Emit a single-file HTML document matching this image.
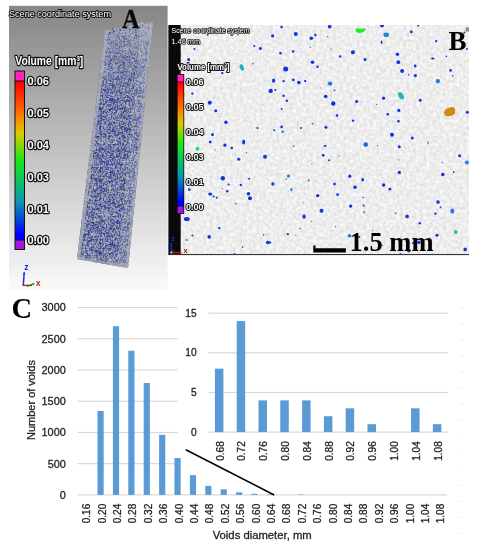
<!DOCTYPE html>
<html lang="en"><head><meta charset="utf-8"><title>Voids figure</title>
<style>
html,body{margin:0;padding:0;background:#fff;}
body{width:480px;height:550px;overflow:hidden;}
svg{display:block;}
text{font-family:"Liberation Sans",Arial,sans-serif;}
.ser{font-family:"Liberation Serif","Times New Roman",serif;font-weight:bold;}
.ax{fill:#262626;stroke:#262626;stroke-width:0.3px;}
.ol{fill:#fff;stroke:#111;paint-order:stroke fill;stroke-linejoin:round;}
</style></head><body>
<svg width="480" height="550" viewBox="0 0 480 550">
<defs>
<linearGradient id="gA" x1="0" y1="0" x2="0" y2="1">
<stop offset="0" stop-color="#868686"/><stop offset="1" stop-color="#fafafa"/>
</linearGradient>
<linearGradient id="hue" x1="0" y1="0" x2="0" y2="1">
<stop offset="0" stop-color="#ff0000"/><stop offset="0.2" stop-color="#ff7000"/><stop offset="0.33" stop-color="#dccc00"/>
<stop offset="0.5" stop-color="#18e818"/><stop offset="0.76" stop-color="#0a98b0"/>
<stop offset="0.97" stop-color="#0000ff"/>
</linearGradient>
<filter id="nB" x="0" y="0" width="100%" height="100%" color-interpolation-filters="sRGB">
<feTurbulence type="fractalNoise" baseFrequency="0.3" numOctaves="2" seed="3" result="n"/>
<feColorMatrix type="matrix" values="0.18 0 0 0 0.84  0.18 0 0 0 0.84  0.18 0 0 0 0.84  0 0 0 0 1"/>
</filter>
<filter id="blA" x="-2%" y="-2%" width="104%" height="104%" color-interpolation-filters="sRGB"><feConvolveMatrix order="3" kernelMatrix="0 1 0 1 8 1 0 1 0" divisor="12" edgeMode="duplicate" preserveAlpha="true"/></filter>
<pattern id="spk" width="72" height="72" patternUnits="userSpaceOnUse">
<path fill="#4653a2" d="M6 0h1v1h-1zM11 0h1v1h-1zM13 0h1v1h-1zM16 0h1v1h-1zM17 0h1v1h-1zM21 0h1v1h-1zM23 0h1v1h-1zM25 0h1v1h-1zM26 0h1v1h-1zM28 0h1v1h-1zM29 0h1v1h-1zM36 0h1v1h-1zM43 0h1v1h-1zM44 0h1v1h-1zM45 0h1v1h-1zM48 0h1v1h-1zM57 0h1v1h-1zM59 0h1v1h-1zM62 0h1v1h-1zM66 0h1v1h-1zM67 0h1v1h-1zM68 0h1v1h-1zM70 0h1v1h-1zM6 1h1v1h-1zM10 1h1v1h-1zM12 1h1v1h-1zM21 1h1v1h-1zM22 1h1v1h-1zM23 1h1v1h-1zM26 1h1v1h-1zM27 1h1v1h-1zM31 1h1v1h-1zM36 1h1v1h-1zM38 1h1v1h-1zM41 1h1v1h-1zM46 1h1v1h-1zM48 1h1v1h-1zM61 1h1v1h-1zM68 1h1v1h-1zM16 2h1v1h-1zM18 2h1v1h-1zM36 2h1v1h-1zM43 2h1v1h-1zM52 2h1v1h-1zM53 2h1v1h-1zM56 2h1v1h-1zM59 2h1v1h-1zM61 2h1v1h-1zM62 2h1v1h-1zM63 2h1v1h-1zM65 2h1v1h-1zM66 2h1v1h-1zM67 2h1v1h-1zM0 3h1v1h-1zM2 3h1v1h-1zM6 3h1v1h-1zM9 3h1v1h-1zM11 3h1v1h-1zM21 3h1v1h-1zM29 3h1v1h-1zM30 3h1v1h-1zM33 3h1v1h-1zM38 3h1v1h-1zM45 3h1v1h-1zM54 3h1v1h-1zM60 3h1v1h-1zM65 3h1v1h-1zM67 3h1v1h-1zM3 4h1v1h-1zM14 4h1v1h-1zM15 4h1v1h-1zM20 4h1v1h-1zM31 4h1v1h-1zM34 4h1v1h-1zM41 4h1v1h-1zM46 4h1v1h-1zM49 4h1v1h-1zM50 4h1v1h-1zM54 4h1v1h-1zM59 4h1v1h-1zM61 4h1v1h-1zM65 4h1v1h-1zM68 4h1v1h-1zM71 4h1v1h-1zM1 5h1v1h-1zM2 5h1v1h-1zM4 5h1v1h-1zM5 5h1v1h-1zM9 5h1v1h-1zM16 5h1v1h-1zM18 5h1v1h-1zM26 5h1v1h-1zM29 5h1v1h-1zM30 5h1v1h-1zM33 5h1v1h-1zM36 5h1v1h-1zM38 5h1v1h-1zM39 5h1v1h-1zM41 5h1v1h-1zM46 5h1v1h-1zM48 5h1v1h-1zM49 5h1v1h-1zM52 5h1v1h-1zM53 5h1v1h-1zM57 5h1v1h-1zM60 5h1v1h-1zM65 5h1v1h-1zM4 6h1v1h-1zM5 6h1v1h-1zM6 6h1v1h-1zM7 6h1v1h-1zM11 6h1v1h-1zM17 6h1v1h-1zM18 6h1v1h-1zM19 6h1v1h-1zM23 6h1v1h-1zM24 6h1v1h-1zM26 6h1v1h-1zM28 6h1v1h-1zM30 6h1v1h-1zM38 6h1v1h-1zM43 6h1v1h-1zM44 6h1v1h-1zM45 6h1v1h-1zM46 6h1v1h-1zM47 6h1v1h-1zM56 6h1v1h-1zM57 6h1v1h-1zM63 6h1v1h-1zM64 6h1v1h-1zM67 6h1v1h-1zM0 7h1v1h-1zM1 7h1v1h-1zM5 7h1v1h-1zM6 7h1v1h-1zM7 7h1v1h-1zM9 7h1v1h-1zM10 7h1v1h-1zM13 7h1v1h-1zM14 7h1v1h-1zM16 7h1v1h-1zM20 7h1v1h-1zM22 7h1v1h-1zM27 7h1v1h-1zM28 7h1v1h-1zM39 7h1v1h-1zM40 7h1v1h-1zM42 7h1v1h-1zM46 7h1v1h-1zM47 7h1v1h-1zM48 7h1v1h-1zM49 7h1v1h-1zM52 7h1v1h-1zM53 7h1v1h-1zM55 7h1v1h-1zM56 7h1v1h-1zM59 7h1v1h-1zM5 8h1v1h-1zM6 8h1v1h-1zM7 8h1v1h-1zM11 8h1v1h-1zM14 8h1v1h-1zM15 8h1v1h-1zM16 8h1v1h-1zM21 8h1v1h-1zM25 8h1v1h-1zM29 8h1v1h-1zM31 8h1v1h-1zM36 8h1v1h-1zM47 8h1v1h-1zM50 8h1v1h-1zM52 8h1v1h-1zM57 8h1v1h-1zM59 8h1v1h-1zM63 8h1v1h-1zM65 8h1v1h-1zM71 8h1v1h-1zM2 9h1v1h-1zM3 9h1v1h-1zM4 9h1v1h-1zM7 9h1v1h-1zM15 9h1v1h-1zM18 9h1v1h-1zM21 9h1v1h-1zM39 9h1v1h-1zM40 9h1v1h-1zM49 9h1v1h-1zM58 9h1v1h-1zM61 9h1v1h-1zM65 9h1v1h-1zM67 9h1v1h-1zM1 10h1v1h-1zM7 10h1v1h-1zM12 10h1v1h-1zM15 10h1v1h-1zM16 10h1v1h-1zM29 10h1v1h-1zM30 10h1v1h-1zM31 10h1v1h-1zM34 10h1v1h-1zM35 10h1v1h-1zM40 10h1v1h-1zM48 10h1v1h-1zM52 10h1v1h-1zM53 10h1v1h-1zM54 10h1v1h-1zM55 10h1v1h-1zM56 10h1v1h-1zM58 10h1v1h-1zM68 10h1v1h-1zM69 10h1v1h-1zM70 10h1v1h-1zM71 10h1v1h-1zM4 11h1v1h-1zM8 11h1v1h-1zM15 11h1v1h-1zM19 11h1v1h-1zM34 11h1v1h-1zM36 11h1v1h-1zM38 11h1v1h-1zM40 11h1v1h-1zM46 11h1v1h-1zM49 11h1v1h-1zM52 11h1v1h-1zM53 11h1v1h-1zM57 11h1v1h-1zM58 11h1v1h-1zM62 11h1v1h-1zM67 11h1v1h-1zM3 12h1v1h-1zM4 12h1v1h-1zM14 12h1v1h-1zM19 12h1v1h-1zM25 12h1v1h-1zM26 12h1v1h-1zM28 12h1v1h-1zM32 12h1v1h-1zM33 12h1v1h-1zM37 12h1v1h-1zM38 12h1v1h-1zM41 12h1v1h-1zM42 12h1v1h-1zM48 12h1v1h-1zM52 12h1v1h-1zM53 12h1v1h-1zM60 12h1v1h-1zM65 12h1v1h-1zM68 12h1v1h-1zM2 13h1v1h-1zM4 13h1v1h-1zM7 13h1v1h-1zM19 13h1v1h-1zM21 13h1v1h-1zM30 13h1v1h-1zM34 13h1v1h-1zM36 13h1v1h-1zM37 13h1v1h-1zM39 13h1v1h-1zM50 13h1v1h-1zM55 13h1v1h-1zM56 13h1v1h-1zM57 13h1v1h-1zM60 13h1v1h-1zM61 13h1v1h-1zM65 13h1v1h-1zM67 13h1v1h-1zM71 13h1v1h-1zM1 14h1v1h-1zM2 14h1v1h-1zM4 14h1v1h-1zM5 14h1v1h-1zM10 14h1v1h-1zM13 14h1v1h-1zM15 14h1v1h-1zM17 14h1v1h-1zM22 14h1v1h-1zM23 14h1v1h-1zM26 14h1v1h-1zM27 14h1v1h-1zM29 14h1v1h-1zM33 14h1v1h-1zM34 14h1v1h-1zM40 14h1v1h-1zM51 14h1v1h-1zM52 14h1v1h-1zM59 14h1v1h-1zM62 14h1v1h-1zM66 14h1v1h-1zM2 15h1v1h-1zM3 15h1v1h-1zM7 15h1v1h-1zM9 15h1v1h-1zM14 15h1v1h-1zM16 15h1v1h-1zM17 15h1v1h-1zM20 15h1v1h-1zM25 15h1v1h-1zM27 15h1v1h-1zM29 15h1v1h-1zM37 15h1v1h-1zM46 15h1v1h-1zM47 15h1v1h-1zM56 15h1v1h-1zM60 15h1v1h-1zM61 15h1v1h-1zM64 15h1v1h-1zM66 15h1v1h-1zM67 15h1v1h-1zM68 15h1v1h-1zM0 16h1v1h-1zM2 16h1v1h-1zM4 16h1v1h-1zM6 16h1v1h-1zM8 16h1v1h-1zM19 16h1v1h-1zM23 16h1v1h-1zM27 16h1v1h-1zM41 16h1v1h-1zM43 16h1v1h-1zM47 16h1v1h-1zM50 16h1v1h-1zM51 16h1v1h-1zM54 16h1v1h-1zM59 16h1v1h-1zM61 16h1v1h-1zM2 17h1v1h-1zM5 17h1v1h-1zM6 17h1v1h-1zM7 17h1v1h-1zM9 17h1v1h-1zM15 17h1v1h-1zM24 17h1v1h-1zM27 17h1v1h-1zM28 17h1v1h-1zM30 17h1v1h-1zM32 17h1v1h-1zM33 17h1v1h-1zM34 17h1v1h-1zM39 17h1v1h-1zM43 17h1v1h-1zM47 17h1v1h-1zM63 17h1v1h-1zM65 17h1v1h-1zM68 17h1v1h-1zM0 18h1v1h-1zM3 18h1v1h-1zM5 18h1v1h-1zM6 18h1v1h-1zM8 18h1v1h-1zM9 18h1v1h-1zM15 18h1v1h-1zM16 18h1v1h-1zM17 18h1v1h-1zM18 18h1v1h-1zM27 18h1v1h-1zM31 18h1v1h-1zM34 18h1v1h-1zM36 18h1v1h-1zM39 18h1v1h-1zM47 18h1v1h-1zM49 18h1v1h-1zM53 18h1v1h-1zM57 18h1v1h-1zM60 18h1v1h-1zM62 18h1v1h-1zM64 18h1v1h-1zM68 18h1v1h-1zM71 18h1v1h-1zM1 19h1v1h-1zM4 19h1v1h-1zM10 19h1v1h-1zM11 19h1v1h-1zM25 19h1v1h-1zM32 19h1v1h-1zM35 19h1v1h-1zM36 19h1v1h-1zM39 19h1v1h-1zM40 19h1v1h-1zM44 19h1v1h-1zM46 19h1v1h-1zM54 19h1v1h-1zM58 19h1v1h-1zM67 19h1v1h-1zM0 20h1v1h-1zM4 20h1v1h-1zM10 20h1v1h-1zM13 20h1v1h-1zM22 20h1v1h-1zM24 20h1v1h-1zM28 20h1v1h-1zM29 20h1v1h-1zM32 20h1v1h-1zM34 20h1v1h-1zM35 20h1v1h-1zM36 20h1v1h-1zM39 20h1v1h-1zM40 20h1v1h-1zM41 20h1v1h-1zM47 20h1v1h-1zM48 20h1v1h-1zM50 20h1v1h-1zM51 20h1v1h-1zM54 20h1v1h-1zM65 20h1v1h-1zM66 20h1v1h-1zM68 20h1v1h-1zM69 20h1v1h-1zM70 20h1v1h-1zM12 21h1v1h-1zM13 21h1v1h-1zM15 21h1v1h-1zM16 21h1v1h-1zM18 21h1v1h-1zM19 21h1v1h-1zM24 21h1v1h-1zM26 21h1v1h-1zM34 21h1v1h-1zM35 21h1v1h-1zM38 21h1v1h-1zM53 21h1v1h-1zM56 21h1v1h-1zM57 21h1v1h-1zM59 21h1v1h-1zM62 21h1v1h-1zM64 21h1v1h-1zM67 21h1v1h-1zM71 21h1v1h-1zM0 22h1v1h-1zM4 22h1v1h-1zM7 22h1v1h-1zM15 22h1v1h-1zM28 22h1v1h-1zM31 22h1v1h-1zM33 22h1v1h-1zM46 22h1v1h-1zM52 22h1v1h-1zM59 22h1v1h-1zM4 23h1v1h-1zM8 23h1v1h-1zM9 23h1v1h-1zM14 23h1v1h-1zM20 23h1v1h-1zM22 23h1v1h-1zM23 23h1v1h-1zM24 23h1v1h-1zM29 23h1v1h-1zM33 23h1v1h-1zM36 23h1v1h-1zM38 23h1v1h-1zM45 23h1v1h-1zM48 23h1v1h-1zM49 23h1v1h-1zM54 23h1v1h-1zM59 23h1v1h-1zM63 23h1v1h-1zM0 24h1v1h-1zM2 24h1v1h-1zM3 24h1v1h-1zM11 24h1v1h-1zM12 24h1v1h-1zM13 24h1v1h-1zM15 24h1v1h-1zM18 24h1v1h-1zM21 24h1v1h-1zM24 24h1v1h-1zM25 24h1v1h-1zM30 24h1v1h-1zM34 24h1v1h-1zM38 24h1v1h-1zM39 24h1v1h-1zM40 24h1v1h-1zM42 24h1v1h-1zM48 24h1v1h-1zM60 24h1v1h-1zM65 24h1v1h-1zM68 24h1v1h-1zM69 24h1v1h-1zM6 25h1v1h-1zM8 25h1v1h-1zM9 25h1v1h-1zM16 25h1v1h-1zM17 25h1v1h-1zM18 25h1v1h-1zM19 25h1v1h-1zM27 25h1v1h-1zM30 25h1v1h-1zM32 25h1v1h-1zM50 25h1v1h-1zM52 25h1v1h-1zM53 25h1v1h-1zM56 25h1v1h-1zM57 25h1v1h-1zM58 25h1v1h-1zM65 25h1v1h-1zM67 25h1v1h-1zM2 26h1v1h-1zM16 26h1v1h-1zM17 26h1v1h-1zM30 26h1v1h-1zM37 26h1v1h-1zM38 26h1v1h-1zM41 26h1v1h-1zM46 26h1v1h-1zM48 26h1v1h-1zM52 26h1v1h-1zM57 26h1v1h-1zM62 26h1v1h-1zM2 27h1v1h-1zM3 27h1v1h-1zM15 27h1v1h-1zM19 27h1v1h-1zM29 27h1v1h-1zM31 27h1v1h-1zM33 27h1v1h-1zM34 27h1v1h-1zM39 27h1v1h-1zM42 27h1v1h-1zM50 27h1v1h-1zM54 27h1v1h-1zM55 27h1v1h-1zM57 27h1v1h-1zM58 27h1v1h-1zM60 27h1v1h-1zM62 27h1v1h-1zM1 28h1v1h-1zM2 28h1v1h-1zM5 28h1v1h-1zM11 28h1v1h-1zM19 28h1v1h-1zM22 28h1v1h-1zM23 28h1v1h-1zM30 28h1v1h-1zM31 28h1v1h-1zM35 28h1v1h-1zM39 28h1v1h-1zM46 28h1v1h-1zM48 28h1v1h-1zM49 28h1v1h-1zM51 28h1v1h-1zM55 28h1v1h-1zM56 28h1v1h-1zM57 28h1v1h-1zM59 28h1v1h-1zM61 28h1v1h-1zM67 28h1v1h-1zM1 29h1v1h-1zM7 29h1v1h-1zM12 29h1v1h-1zM33 29h1v1h-1zM34 29h1v1h-1zM38 29h1v1h-1zM39 29h1v1h-1zM40 29h1v1h-1zM41 29h1v1h-1zM42 29h1v1h-1zM44 29h1v1h-1zM45 29h1v1h-1zM47 29h1v1h-1zM61 29h1v1h-1zM62 29h1v1h-1zM65 29h1v1h-1zM66 29h1v1h-1zM3 30h1v1h-1zM5 30h1v1h-1zM13 30h1v1h-1zM16 30h1v1h-1zM21 30h1v1h-1zM33 30h1v1h-1zM34 30h1v1h-1zM36 30h1v1h-1zM41 30h1v1h-1zM42 30h1v1h-1zM44 30h1v1h-1zM45 30h1v1h-1zM48 30h1v1h-1zM51 30h1v1h-1zM58 30h1v1h-1zM61 30h1v1h-1zM62 30h1v1h-1zM66 30h1v1h-1zM3 31h1v1h-1zM4 31h1v1h-1zM8 31h1v1h-1zM9 31h1v1h-1zM13 31h1v1h-1zM25 31h1v1h-1zM31 31h1v1h-1zM39 31h1v1h-1zM42 31h1v1h-1zM45 31h1v1h-1zM67 31h1v1h-1zM69 31h1v1h-1zM1 32h1v1h-1zM4 32h1v1h-1zM7 32h1v1h-1zM8 32h1v1h-1zM10 32h1v1h-1zM11 32h1v1h-1zM27 32h1v1h-1zM30 32h1v1h-1zM35 32h1v1h-1zM36 32h1v1h-1zM37 32h1v1h-1zM45 32h1v1h-1zM48 32h1v1h-1zM49 32h1v1h-1zM54 32h1v1h-1zM56 32h1v1h-1zM57 32h1v1h-1zM66 32h1v1h-1zM70 32h1v1h-1zM71 32h1v1h-1zM1 33h1v1h-1zM8 33h1v1h-1zM9 33h1v1h-1zM18 33h1v1h-1zM22 33h1v1h-1zM36 33h1v1h-1zM39 33h1v1h-1zM41 33h1v1h-1zM45 33h1v1h-1zM46 33h1v1h-1zM51 33h1v1h-1zM57 33h1v1h-1zM60 33h1v1h-1zM61 33h1v1h-1zM0 34h1v1h-1zM9 34h1v1h-1zM15 34h1v1h-1zM20 34h1v1h-1zM22 34h1v1h-1zM23 34h1v1h-1zM25 34h1v1h-1zM26 34h1v1h-1zM28 34h1v1h-1zM31 34h1v1h-1zM34 34h1v1h-1zM36 34h1v1h-1zM40 34h1v1h-1zM44 34h1v1h-1zM45 34h1v1h-1zM51 34h1v1h-1zM61 34h1v1h-1zM64 34h1v1h-1zM67 34h1v1h-1zM11 35h1v1h-1zM14 35h1v1h-1zM15 35h1v1h-1zM22 35h1v1h-1zM23 35h1v1h-1zM24 35h1v1h-1zM26 35h1v1h-1zM28 35h1v1h-1zM30 35h1v1h-1zM31 35h1v1h-1zM34 35h1v1h-1zM43 35h1v1h-1zM45 35h1v1h-1zM55 35h1v1h-1zM59 35h1v1h-1zM67 35h1v1h-1zM70 35h1v1h-1zM71 35h1v1h-1zM1 36h1v1h-1zM4 36h1v1h-1zM8 36h1v1h-1zM13 36h1v1h-1zM25 36h1v1h-1zM29 36h1v1h-1zM36 36h1v1h-1zM40 36h1v1h-1zM41 36h1v1h-1zM42 36h1v1h-1zM47 36h1v1h-1zM51 36h1v1h-1zM52 36h1v1h-1zM57 36h1v1h-1zM58 36h1v1h-1zM66 36h1v1h-1zM0 37h1v1h-1zM5 37h1v1h-1zM11 37h1v1h-1zM14 37h1v1h-1zM19 37h1v1h-1zM26 37h1v1h-1zM29 37h1v1h-1zM30 37h1v1h-1zM33 37h1v1h-1zM34 37h1v1h-1zM36 37h1v1h-1zM38 37h1v1h-1zM39 37h1v1h-1zM40 37h1v1h-1zM43 37h1v1h-1zM45 37h1v1h-1zM50 37h1v1h-1zM52 37h1v1h-1zM59 37h1v1h-1zM62 37h1v1h-1zM68 37h1v1h-1zM70 37h1v1h-1zM0 38h1v1h-1zM2 38h1v1h-1zM5 38h1v1h-1zM6 38h1v1h-1zM9 38h1v1h-1zM17 38h1v1h-1zM26 38h1v1h-1zM29 38h1v1h-1zM32 38h1v1h-1zM40 38h1v1h-1zM43 38h1v1h-1zM44 38h1v1h-1zM45 38h1v1h-1zM55 38h1v1h-1zM58 38h1v1h-1zM64 38h1v1h-1zM71 38h1v1h-1zM0 39h1v1h-1zM3 39h1v1h-1zM11 39h1v1h-1zM13 39h1v1h-1zM14 39h1v1h-1zM15 39h1v1h-1zM17 39h1v1h-1zM18 39h1v1h-1zM20 39h1v1h-1zM22 39h1v1h-1zM23 39h1v1h-1zM24 39h1v1h-1zM25 39h1v1h-1zM28 39h1v1h-1zM29 39h1v1h-1zM32 39h1v1h-1zM37 39h1v1h-1zM39 39h1v1h-1zM51 39h1v1h-1zM53 39h1v1h-1zM54 39h1v1h-1zM58 39h1v1h-1zM62 39h1v1h-1zM66 39h1v1h-1zM70 39h1v1h-1zM2 40h1v1h-1zM9 40h1v1h-1zM22 40h1v1h-1zM24 40h1v1h-1zM43 40h1v1h-1zM44 40h1v1h-1zM50 40h1v1h-1zM55 40h1v1h-1zM57 40h1v1h-1zM69 40h1v1h-1zM71 40h1v1h-1zM0 41h1v1h-1zM2 41h1v1h-1zM4 41h1v1h-1zM6 41h1v1h-1zM9 41h1v1h-1zM12 41h1v1h-1zM13 41h1v1h-1zM14 41h1v1h-1zM15 41h1v1h-1zM16 41h1v1h-1zM19 41h1v1h-1zM22 41h1v1h-1zM24 41h1v1h-1zM28 41h1v1h-1zM29 41h1v1h-1zM34 41h1v1h-1zM41 41h1v1h-1zM42 41h1v1h-1zM46 41h1v1h-1zM51 41h1v1h-1zM54 41h1v1h-1zM56 41h1v1h-1zM67 41h1v1h-1zM69 41h1v1h-1zM0 42h1v1h-1zM3 42h1v1h-1zM10 42h1v1h-1zM14 42h1v1h-1zM21 42h1v1h-1zM28 42h1v1h-1zM29 42h1v1h-1zM32 42h1v1h-1zM36 42h1v1h-1zM39 42h1v1h-1zM42 42h1v1h-1zM48 42h1v1h-1zM50 42h1v1h-1zM52 42h1v1h-1zM62 42h1v1h-1zM63 42h1v1h-1zM0 43h1v1h-1zM4 43h1v1h-1zM5 43h1v1h-1zM6 43h1v1h-1zM17 43h1v1h-1zM18 43h1v1h-1zM25 43h1v1h-1zM27 43h1v1h-1zM28 43h1v1h-1zM34 43h1v1h-1zM40 43h1v1h-1zM43 43h1v1h-1zM45 43h1v1h-1zM49 43h1v1h-1zM50 43h1v1h-1zM54 43h1v1h-1zM57 43h1v1h-1zM58 43h1v1h-1zM59 43h1v1h-1zM60 43h1v1h-1zM61 43h1v1h-1zM67 43h1v1h-1zM69 43h1v1h-1zM1 44h1v1h-1zM10 44h1v1h-1zM13 44h1v1h-1zM16 44h1v1h-1zM25 44h1v1h-1zM26 44h1v1h-1zM27 44h1v1h-1zM29 44h1v1h-1zM30 44h1v1h-1zM32 44h1v1h-1zM33 44h1v1h-1zM34 44h1v1h-1zM51 44h1v1h-1zM55 44h1v1h-1zM56 44h1v1h-1zM58 44h1v1h-1zM63 44h1v1h-1zM70 44h1v1h-1zM7 45h1v1h-1zM12 45h1v1h-1zM13 45h1v1h-1zM14 45h1v1h-1zM23 45h1v1h-1zM25 45h1v1h-1zM28 45h1v1h-1zM30 45h1v1h-1zM32 45h1v1h-1zM33 45h1v1h-1zM39 45h1v1h-1zM43 45h1v1h-1zM49 45h1v1h-1zM52 45h1v1h-1zM57 45h1v1h-1zM64 45h1v1h-1zM65 45h1v1h-1zM66 45h1v1h-1zM67 45h1v1h-1zM68 45h1v1h-1zM69 45h1v1h-1zM6 46h1v1h-1zM7 46h1v1h-1zM8 46h1v1h-1zM10 46h1v1h-1zM21 46h1v1h-1zM22 46h1v1h-1zM23 46h1v1h-1zM24 46h1v1h-1zM27 46h1v1h-1zM28 46h1v1h-1zM39 46h1v1h-1zM43 46h1v1h-1zM45 46h1v1h-1zM46 46h1v1h-1zM50 46h1v1h-1zM55 46h1v1h-1zM57 46h1v1h-1zM58 46h1v1h-1zM63 46h1v1h-1zM66 46h1v1h-1zM67 46h1v1h-1zM68 46h1v1h-1zM0 47h1v1h-1zM4 47h1v1h-1zM5 47h1v1h-1zM7 47h1v1h-1zM10 47h1v1h-1zM11 47h1v1h-1zM12 47h1v1h-1zM17 47h1v1h-1zM19 47h1v1h-1zM26 47h1v1h-1zM29 47h1v1h-1zM30 47h1v1h-1zM42 47h1v1h-1zM55 47h1v1h-1zM57 47h1v1h-1zM63 47h1v1h-1zM64 47h1v1h-1zM65 47h1v1h-1zM66 47h1v1h-1zM0 48h1v1h-1zM2 48h1v1h-1zM5 48h1v1h-1zM8 48h1v1h-1zM13 48h1v1h-1zM19 48h1v1h-1zM21 48h1v1h-1zM23 48h1v1h-1zM29 48h1v1h-1zM31 48h1v1h-1zM35 48h1v1h-1zM36 48h1v1h-1zM44 48h1v1h-1zM45 48h1v1h-1zM47 48h1v1h-1zM50 48h1v1h-1zM57 48h1v1h-1zM60 48h1v1h-1zM64 48h1v1h-1zM2 49h1v1h-1zM7 49h1v1h-1zM11 49h1v1h-1zM20 49h1v1h-1zM23 49h1v1h-1zM26 49h1v1h-1zM29 49h1v1h-1zM32 49h1v1h-1zM33 49h1v1h-1zM36 49h1v1h-1zM40 49h1v1h-1zM42 49h1v1h-1zM53 49h1v1h-1zM56 49h1v1h-1zM57 49h1v1h-1zM58 49h1v1h-1zM60 49h1v1h-1zM64 49h1v1h-1zM66 49h1v1h-1zM67 49h1v1h-1zM69 49h1v1h-1zM7 50h1v1h-1zM10 50h1v1h-1zM14 50h1v1h-1zM15 50h1v1h-1zM22 50h1v1h-1zM25 50h1v1h-1zM26 50h1v1h-1zM28 50h1v1h-1zM33 50h1v1h-1zM34 50h1v1h-1zM37 50h1v1h-1zM38 50h1v1h-1zM39 50h1v1h-1zM42 50h1v1h-1zM45 50h1v1h-1zM54 50h1v1h-1zM61 50h1v1h-1zM64 50h1v1h-1zM69 50h1v1h-1zM70 50h1v1h-1zM10 51h1v1h-1zM16 51h1v1h-1zM18 51h1v1h-1zM22 51h1v1h-1zM25 51h1v1h-1zM27 51h1v1h-1zM28 51h1v1h-1zM32 51h1v1h-1zM33 51h1v1h-1zM39 51h1v1h-1zM41 51h1v1h-1zM43 51h1v1h-1zM49 51h1v1h-1zM53 51h1v1h-1zM57 51h1v1h-1zM59 51h1v1h-1zM63 51h1v1h-1zM68 51h1v1h-1zM1 52h1v1h-1zM7 52h1v1h-1zM10 52h1v1h-1zM19 52h1v1h-1zM25 52h1v1h-1zM26 52h1v1h-1zM32 52h1v1h-1zM38 52h1v1h-1zM49 52h1v1h-1zM50 52h1v1h-1zM52 52h1v1h-1zM55 52h1v1h-1zM58 52h1v1h-1zM69 52h1v1h-1zM1 53h1v1h-1zM3 53h1v1h-1zM4 53h1v1h-1zM14 53h1v1h-1zM20 53h1v1h-1zM22 53h1v1h-1zM23 53h1v1h-1zM25 53h1v1h-1zM28 53h1v1h-1zM36 53h1v1h-1zM38 53h1v1h-1zM41 53h1v1h-1zM43 53h1v1h-1zM45 53h1v1h-1zM47 53h1v1h-1zM56 53h1v1h-1zM57 53h1v1h-1zM62 53h1v1h-1zM8 54h1v1h-1zM10 54h1v1h-1zM27 54h1v1h-1zM29 54h1v1h-1zM31 54h1v1h-1zM34 54h1v1h-1zM37 54h1v1h-1zM44 54h1v1h-1zM49 54h1v1h-1zM51 54h1v1h-1zM60 54h1v1h-1zM66 54h1v1h-1zM71 54h1v1h-1zM0 55h1v1h-1zM2 55h1v1h-1zM3 55h1v1h-1zM6 55h1v1h-1zM9 55h1v1h-1zM11 55h1v1h-1zM17 55h1v1h-1zM18 55h1v1h-1zM23 55h1v1h-1zM27 55h1v1h-1zM38 55h1v1h-1zM49 55h1v1h-1zM50 55h1v1h-1zM52 55h1v1h-1zM57 55h1v1h-1zM59 55h1v1h-1zM60 55h1v1h-1zM65 55h1v1h-1zM1 56h1v1h-1zM3 56h1v1h-1zM5 56h1v1h-1zM10 56h1v1h-1zM17 56h1v1h-1zM19 56h1v1h-1zM22 56h1v1h-1zM24 56h1v1h-1zM37 56h1v1h-1zM40 56h1v1h-1zM41 56h1v1h-1zM44 56h1v1h-1zM45 56h1v1h-1zM49 56h1v1h-1zM56 56h1v1h-1zM57 56h1v1h-1zM58 56h1v1h-1zM69 56h1v1h-1zM5 57h1v1h-1zM13 57h1v1h-1zM14 57h1v1h-1zM15 57h1v1h-1zM20 57h1v1h-1zM24 57h1v1h-1zM28 57h1v1h-1zM33 57h1v1h-1zM36 57h1v1h-1zM37 57h1v1h-1zM38 57h1v1h-1zM41 57h1v1h-1zM42 57h1v1h-1zM44 57h1v1h-1zM46 57h1v1h-1zM49 57h1v1h-1zM52 57h1v1h-1zM53 57h1v1h-1zM55 57h1v1h-1zM56 57h1v1h-1zM57 57h1v1h-1zM65 57h1v1h-1zM69 57h1v1h-1zM1 58h1v1h-1zM2 58h1v1h-1zM3 58h1v1h-1zM6 58h1v1h-1zM9 58h1v1h-1zM12 58h1v1h-1zM13 58h1v1h-1zM15 58h1v1h-1zM16 58h1v1h-1zM17 58h1v1h-1zM21 58h1v1h-1zM22 58h1v1h-1zM25 58h1v1h-1zM28 58h1v1h-1zM30 58h1v1h-1zM41 58h1v1h-1zM42 58h1v1h-1zM45 58h1v1h-1zM52 58h1v1h-1zM54 58h1v1h-1zM63 58h1v1h-1zM68 58h1v1h-1zM5 59h1v1h-1zM8 59h1v1h-1zM14 59h1v1h-1zM16 59h1v1h-1zM17 59h1v1h-1zM19 59h1v1h-1zM20 59h1v1h-1zM22 59h1v1h-1zM24 59h1v1h-1zM28 59h1v1h-1zM33 59h1v1h-1zM34 59h1v1h-1zM35 59h1v1h-1zM38 59h1v1h-1zM39 59h1v1h-1zM41 59h1v1h-1zM52 59h1v1h-1zM53 59h1v1h-1zM68 59h1v1h-1zM0 60h1v1h-1zM1 60h1v1h-1zM5 60h1v1h-1zM10 60h1v1h-1zM14 60h1v1h-1zM15 60h1v1h-1zM22 60h1v1h-1zM23 60h1v1h-1zM26 60h1v1h-1zM28 60h1v1h-1zM29 60h1v1h-1zM35 60h1v1h-1zM38 60h1v1h-1zM42 60h1v1h-1zM47 60h1v1h-1zM50 60h1v1h-1zM54 60h1v1h-1zM57 60h1v1h-1zM62 60h1v1h-1zM67 60h1v1h-1zM68 60h1v1h-1zM1 61h1v1h-1zM2 61h1v1h-1zM3 61h1v1h-1zM4 61h1v1h-1zM5 61h1v1h-1zM8 61h1v1h-1zM14 61h1v1h-1zM15 61h1v1h-1zM31 61h1v1h-1zM33 61h1v1h-1zM40 61h1v1h-1zM42 61h1v1h-1zM48 61h1v1h-1zM57 61h1v1h-1zM62 61h1v1h-1zM64 61h1v1h-1zM71 61h1v1h-1zM3 62h1v1h-1zM17 62h1v1h-1zM24 62h1v1h-1zM28 62h1v1h-1zM31 62h1v1h-1zM32 62h1v1h-1zM36 62h1v1h-1zM42 62h1v1h-1zM47 62h1v1h-1zM49 62h1v1h-1zM55 62h1v1h-1zM59 62h1v1h-1zM2 63h1v1h-1zM5 63h1v1h-1zM13 63h1v1h-1zM16 63h1v1h-1zM20 63h1v1h-1zM23 63h1v1h-1zM29 63h1v1h-1zM33 63h1v1h-1zM37 63h1v1h-1zM38 63h1v1h-1zM39 63h1v1h-1zM43 63h1v1h-1zM52 63h1v1h-1zM57 63h1v1h-1zM59 63h1v1h-1zM60 63h1v1h-1zM64 63h1v1h-1zM0 64h1v1h-1zM5 64h1v1h-1zM6 64h1v1h-1zM9 64h1v1h-1zM10 64h1v1h-1zM14 64h1v1h-1zM17 64h1v1h-1zM22 64h1v1h-1zM24 64h1v1h-1zM27 64h1v1h-1zM32 64h1v1h-1zM33 64h1v1h-1zM36 64h1v1h-1zM49 64h1v1h-1zM50 64h1v1h-1zM51 64h1v1h-1zM62 64h1v1h-1zM66 64h1v1h-1zM67 64h1v1h-1zM5 65h1v1h-1zM9 65h1v1h-1zM10 65h1v1h-1zM14 65h1v1h-1zM16 65h1v1h-1zM18 65h1v1h-1zM23 65h1v1h-1zM25 65h1v1h-1zM26 65h1v1h-1zM31 65h1v1h-1zM33 65h1v1h-1zM36 65h1v1h-1zM40 65h1v1h-1zM43 65h1v1h-1zM48 65h1v1h-1zM51 65h1v1h-1zM52 65h1v1h-1zM57 65h1v1h-1zM58 65h1v1h-1zM61 65h1v1h-1zM71 65h1v1h-1zM6 66h1v1h-1zM7 66h1v1h-1zM8 66h1v1h-1zM12 66h1v1h-1zM15 66h1v1h-1zM20 66h1v1h-1zM26 66h1v1h-1zM28 66h1v1h-1zM29 66h1v1h-1zM36 66h1v1h-1zM46 66h1v1h-1zM52 66h1v1h-1zM54 66h1v1h-1zM63 66h1v1h-1zM64 66h1v1h-1zM68 66h1v1h-1zM70 66h1v1h-1zM71 66h1v1h-1zM5 67h1v1h-1zM11 67h1v1h-1zM12 67h1v1h-1zM15 67h1v1h-1zM22 67h1v1h-1zM28 67h1v1h-1zM33 67h1v1h-1zM41 67h1v1h-1zM42 67h1v1h-1zM47 67h1v1h-1zM48 67h1v1h-1zM49 67h1v1h-1zM56 67h1v1h-1zM61 67h1v1h-1zM66 67h1v1h-1zM6 68h1v1h-1zM10 68h1v1h-1zM12 68h1v1h-1zM15 68h1v1h-1zM17 68h1v1h-1zM19 68h1v1h-1zM21 68h1v1h-1zM22 68h1v1h-1zM26 68h1v1h-1zM37 68h1v1h-1zM40 68h1v1h-1zM41 68h1v1h-1zM44 68h1v1h-1zM45 68h1v1h-1zM51 68h1v1h-1zM60 68h1v1h-1zM61 68h1v1h-1zM62 68h1v1h-1zM66 68h1v1h-1zM67 68h1v1h-1zM69 68h1v1h-1zM70 68h1v1h-1zM5 69h1v1h-1zM8 69h1v1h-1zM11 69h1v1h-1zM12 69h1v1h-1zM13 69h1v1h-1zM17 69h1v1h-1zM19 69h1v1h-1zM34 69h1v1h-1zM36 69h1v1h-1zM40 69h1v1h-1zM45 69h1v1h-1zM46 69h1v1h-1zM47 69h1v1h-1zM52 69h1v1h-1zM66 69h1v1h-1zM67 69h1v1h-1zM2 70h1v1h-1zM6 70h1v1h-1zM15 70h1v1h-1zM16 70h1v1h-1zM19 70h1v1h-1zM20 70h1v1h-1zM21 70h1v1h-1zM38 70h1v1h-1zM51 70h1v1h-1zM55 70h1v1h-1zM60 70h1v1h-1zM61 70h1v1h-1zM63 70h1v1h-1zM65 70h1v1h-1zM68 70h1v1h-1zM69 70h1v1h-1zM3 71h1v1h-1zM4 71h1v1h-1zM6 71h1v1h-1zM9 71h1v1h-1zM11 71h1v1h-1zM12 71h1v1h-1zM15 71h1v1h-1zM17 71h1v1h-1zM19 71h1v1h-1zM20 71h1v1h-1zM25 71h1v1h-1zM32 71h1v1h-1zM43 71h1v1h-1zM45 71h1v1h-1zM47 71h1v1h-1zM50 71h1v1h-1zM51 71h1v1h-1zM55 71h1v1h-1zM56 71h1v1h-1zM57 71h1v1h-1zM67 71h1v1h-1zM68 71h1v1h-1z"/>
<path fill="#2b326c" d="M18 0h1v1h-1zM32 0h1v1h-1zM41 0h1v1h-1zM42 0h1v1h-1zM46 0h1v1h-1zM50 0h1v1h-1zM51 0h1v1h-1zM54 0h1v1h-1zM64 0h1v1h-1zM2 1h1v1h-1zM3 1h1v1h-1zM13 1h1v1h-1zM16 1h1v1h-1zM19 1h1v1h-1zM20 1h1v1h-1zM50 1h1v1h-1zM59 1h1v1h-1zM62 1h1v1h-1zM67 1h1v1h-1zM69 1h1v1h-1zM0 2h1v1h-1zM6 2h1v1h-1zM8 2h1v1h-1zM12 2h1v1h-1zM24 2h1v1h-1zM28 2h1v1h-1zM64 2h1v1h-1zM69 2h1v1h-1zM4 3h1v1h-1zM8 3h1v1h-1zM13 3h1v1h-1zM20 3h1v1h-1zM27 3h1v1h-1zM36 3h1v1h-1zM39 3h1v1h-1zM41 3h1v1h-1zM49 3h1v1h-1zM52 3h1v1h-1zM57 3h1v1h-1zM62 3h1v1h-1zM66 3h1v1h-1zM69 3h1v1h-1zM5 4h1v1h-1zM7 4h1v1h-1zM8 4h1v1h-1zM11 4h1v1h-1zM28 4h1v1h-1zM29 4h1v1h-1zM32 4h1v1h-1zM38 4h1v1h-1zM45 4h1v1h-1zM66 4h1v1h-1zM3 5h1v1h-1zM11 5h1v1h-1zM15 5h1v1h-1zM24 5h1v1h-1zM31 5h1v1h-1zM44 5h1v1h-1zM59 5h1v1h-1zM61 5h1v1h-1zM63 5h1v1h-1zM64 5h1v1h-1zM3 6h1v1h-1zM20 6h1v1h-1zM21 6h1v1h-1zM25 6h1v1h-1zM27 6h1v1h-1zM32 6h1v1h-1zM40 6h1v1h-1zM50 6h1v1h-1zM51 6h1v1h-1zM53 6h1v1h-1zM71 6h1v1h-1zM8 7h1v1h-1zM12 7h1v1h-1zM21 7h1v1h-1zM32 7h1v1h-1zM36 7h1v1h-1zM41 7h1v1h-1zM45 7h1v1h-1zM57 7h1v1h-1zM58 7h1v1h-1zM61 7h1v1h-1zM2 8h1v1h-1zM4 8h1v1h-1zM8 8h1v1h-1zM10 8h1v1h-1zM17 8h1v1h-1zM23 8h1v1h-1zM24 8h1v1h-1zM37 8h1v1h-1zM56 8h1v1h-1zM58 8h1v1h-1zM61 8h1v1h-1zM64 8h1v1h-1zM9 9h1v1h-1zM14 9h1v1h-1zM19 9h1v1h-1zM20 9h1v1h-1zM22 9h1v1h-1zM23 9h1v1h-1zM26 9h1v1h-1zM34 9h1v1h-1zM38 9h1v1h-1zM41 9h1v1h-1zM45 9h1v1h-1zM47 9h1v1h-1zM64 9h1v1h-1zM66 9h1v1h-1zM0 10h1v1h-1zM5 10h1v1h-1zM8 10h1v1h-1zM9 10h1v1h-1zM25 10h1v1h-1zM26 10h1v1h-1zM44 10h1v1h-1zM0 11h1v1h-1zM7 11h1v1h-1zM10 11h1v1h-1zM18 11h1v1h-1zM21 11h1v1h-1zM24 11h1v1h-1zM25 11h1v1h-1zM30 11h1v1h-1zM31 11h1v1h-1zM39 11h1v1h-1zM44 11h1v1h-1zM47 11h1v1h-1zM51 11h1v1h-1zM55 11h1v1h-1zM63 11h1v1h-1zM68 11h1v1h-1zM10 12h1v1h-1zM21 12h1v1h-1zM23 12h1v1h-1zM29 12h1v1h-1zM44 12h1v1h-1zM46 12h1v1h-1zM55 12h1v1h-1zM56 12h1v1h-1zM62 12h1v1h-1zM5 13h1v1h-1zM6 13h1v1h-1zM8 13h1v1h-1zM12 13h1v1h-1zM18 13h1v1h-1zM25 13h1v1h-1zM27 13h1v1h-1zM31 13h1v1h-1zM38 13h1v1h-1zM41 13h1v1h-1zM42 13h1v1h-1zM45 13h1v1h-1zM48 13h1v1h-1zM51 13h1v1h-1zM16 14h1v1h-1zM24 14h1v1h-1zM28 14h1v1h-1zM41 14h1v1h-1zM50 14h1v1h-1zM53 14h1v1h-1zM55 14h1v1h-1zM61 14h1v1h-1zM68 14h1v1h-1zM71 14h1v1h-1zM1 15h1v1h-1zM8 15h1v1h-1zM19 15h1v1h-1zM33 15h1v1h-1zM40 15h1v1h-1zM43 15h1v1h-1zM54 15h1v1h-1zM5 16h1v1h-1zM10 16h1v1h-1zM16 16h1v1h-1zM17 16h1v1h-1zM29 16h1v1h-1zM35 16h1v1h-1zM57 16h1v1h-1zM60 16h1v1h-1zM67 16h1v1h-1zM69 16h1v1h-1zM3 17h1v1h-1zM29 17h1v1h-1zM31 17h1v1h-1zM36 17h1v1h-1zM38 17h1v1h-1zM64 17h1v1h-1zM71 17h1v1h-1zM2 18h1v1h-1zM4 18h1v1h-1zM13 18h1v1h-1zM32 18h1v1h-1zM42 18h1v1h-1zM45 18h1v1h-1zM58 18h1v1h-1zM63 18h1v1h-1zM65 18h1v1h-1zM67 18h1v1h-1zM69 18h1v1h-1zM0 19h1v1h-1zM6 19h1v1h-1zM12 19h1v1h-1zM13 19h1v1h-1zM16 19h1v1h-1zM28 19h1v1h-1zM29 19h1v1h-1zM42 19h1v1h-1zM47 19h1v1h-1zM56 19h1v1h-1zM60 19h1v1h-1zM64 19h1v1h-1zM71 19h1v1h-1zM9 20h1v1h-1zM19 20h1v1h-1zM20 20h1v1h-1zM26 20h1v1h-1zM38 20h1v1h-1zM49 20h1v1h-1zM55 20h1v1h-1zM62 20h1v1h-1zM64 20h1v1h-1zM71 20h1v1h-1zM5 21h1v1h-1zM6 21h1v1h-1zM7 21h1v1h-1zM11 21h1v1h-1zM17 21h1v1h-1zM22 21h1v1h-1zM40 21h1v1h-1zM44 21h1v1h-1zM48 21h1v1h-1zM49 21h1v1h-1zM61 21h1v1h-1zM63 21h1v1h-1zM68 21h1v1h-1zM1 22h1v1h-1zM18 22h1v1h-1zM20 22h1v1h-1zM43 22h1v1h-1zM64 22h1v1h-1zM6 23h1v1h-1zM11 23h1v1h-1zM12 23h1v1h-1zM19 23h1v1h-1zM21 23h1v1h-1zM25 23h1v1h-1zM28 23h1v1h-1zM30 23h1v1h-1zM35 23h1v1h-1zM43 23h1v1h-1zM55 23h1v1h-1zM62 23h1v1h-1zM67 23h1v1h-1zM70 23h1v1h-1zM10 24h1v1h-1zM17 24h1v1h-1zM19 24h1v1h-1zM28 24h1v1h-1zM53 24h1v1h-1zM55 24h1v1h-1zM61 24h1v1h-1zM66 24h1v1h-1zM67 24h1v1h-1zM71 24h1v1h-1zM0 25h1v1h-1zM22 25h1v1h-1zM24 25h1v1h-1zM34 25h1v1h-1zM35 25h1v1h-1zM36 25h1v1h-1zM55 25h1v1h-1zM60 25h1v1h-1zM70 25h1v1h-1zM4 26h1v1h-1zM7 26h1v1h-1zM8 26h1v1h-1zM9 26h1v1h-1zM15 26h1v1h-1zM27 26h1v1h-1zM40 26h1v1h-1zM45 26h1v1h-1zM51 26h1v1h-1zM61 26h1v1h-1zM71 26h1v1h-1zM1 27h1v1h-1zM4 27h1v1h-1zM9 27h1v1h-1zM10 27h1v1h-1zM23 27h1v1h-1zM27 27h1v1h-1zM28 27h1v1h-1zM38 27h1v1h-1zM40 27h1v1h-1zM46 27h1v1h-1zM59 27h1v1h-1zM65 27h1v1h-1zM10 28h1v1h-1zM15 28h1v1h-1zM16 28h1v1h-1zM25 28h1v1h-1zM28 28h1v1h-1zM37 28h1v1h-1zM38 28h1v1h-1zM40 28h1v1h-1zM42 28h1v1h-1zM50 28h1v1h-1zM54 28h1v1h-1zM63 28h1v1h-1zM3 29h1v1h-1zM8 29h1v1h-1zM10 29h1v1h-1zM26 29h1v1h-1zM35 29h1v1h-1zM53 29h1v1h-1zM55 29h1v1h-1zM56 29h1v1h-1zM67 29h1v1h-1zM0 30h1v1h-1zM1 30h1v1h-1zM4 30h1v1h-1zM10 30h1v1h-1zM20 30h1v1h-1zM24 30h1v1h-1zM29 30h1v1h-1zM38 30h1v1h-1zM47 30h1v1h-1zM53 30h1v1h-1zM19 31h1v1h-1zM21 31h1v1h-1zM28 31h1v1h-1zM33 31h1v1h-1zM41 31h1v1h-1zM50 31h1v1h-1zM53 31h1v1h-1zM57 31h1v1h-1zM60 31h1v1h-1zM62 31h1v1h-1zM64 31h1v1h-1zM66 31h1v1h-1zM68 31h1v1h-1zM5 32h1v1h-1zM9 32h1v1h-1zM13 32h1v1h-1zM17 32h1v1h-1zM19 32h1v1h-1zM26 32h1v1h-1zM28 32h1v1h-1zM31 32h1v1h-1zM32 32h1v1h-1zM38 32h1v1h-1zM43 32h1v1h-1zM60 32h1v1h-1zM61 32h1v1h-1zM63 32h1v1h-1zM19 33h1v1h-1zM38 33h1v1h-1zM49 33h1v1h-1zM58 33h1v1h-1zM69 33h1v1h-1zM3 34h1v1h-1zM5 34h1v1h-1zM13 34h1v1h-1zM17 34h1v1h-1zM19 34h1v1h-1zM24 34h1v1h-1zM37 34h1v1h-1zM43 34h1v1h-1zM47 34h1v1h-1zM53 34h1v1h-1zM63 34h1v1h-1zM65 34h1v1h-1zM68 34h1v1h-1zM71 34h1v1h-1zM5 35h1v1h-1zM9 35h1v1h-1zM27 35h1v1h-1zM42 35h1v1h-1zM52 35h1v1h-1zM3 36h1v1h-1zM9 36h1v1h-1zM14 36h1v1h-1zM24 36h1v1h-1zM27 36h1v1h-1zM28 36h1v1h-1zM39 36h1v1h-1zM48 36h1v1h-1zM49 36h1v1h-1zM50 36h1v1h-1zM53 36h1v1h-1zM60 36h1v1h-1zM62 36h1v1h-1zM67 36h1v1h-1zM70 36h1v1h-1zM71 36h1v1h-1zM3 37h1v1h-1zM8 37h1v1h-1zM10 37h1v1h-1zM15 37h1v1h-1zM20 37h1v1h-1zM27 37h1v1h-1zM28 37h1v1h-1zM37 37h1v1h-1zM54 37h1v1h-1zM56 37h1v1h-1zM66 37h1v1h-1zM1 38h1v1h-1zM3 38h1v1h-1zM8 38h1v1h-1zM10 38h1v1h-1zM15 38h1v1h-1zM24 38h1v1h-1zM37 38h1v1h-1zM38 38h1v1h-1zM52 38h1v1h-1zM53 38h1v1h-1zM6 39h1v1h-1zM8 39h1v1h-1zM16 39h1v1h-1zM31 39h1v1h-1zM35 39h1v1h-1zM44 39h1v1h-1zM49 39h1v1h-1zM52 39h1v1h-1zM56 39h1v1h-1zM65 39h1v1h-1zM67 39h1v1h-1zM71 39h1v1h-1zM1 40h1v1h-1zM14 40h1v1h-1zM25 40h1v1h-1zM31 40h1v1h-1zM33 40h1v1h-1zM34 40h1v1h-1zM40 40h1v1h-1zM51 40h1v1h-1zM58 40h1v1h-1zM62 40h1v1h-1zM31 41h1v1h-1zM39 41h1v1h-1zM49 41h1v1h-1zM1 42h1v1h-1zM2 42h1v1h-1zM4 42h1v1h-1zM5 42h1v1h-1zM15 42h1v1h-1zM17 42h1v1h-1zM25 42h1v1h-1zM68 42h1v1h-1zM9 43h1v1h-1zM13 43h1v1h-1zM14 43h1v1h-1zM29 43h1v1h-1zM35 43h1v1h-1zM48 43h1v1h-1zM56 43h1v1h-1zM63 43h1v1h-1zM17 44h1v1h-1zM21 44h1v1h-1zM24 44h1v1h-1zM31 44h1v1h-1zM45 44h1v1h-1zM47 44h1v1h-1zM49 44h1v1h-1zM52 44h1v1h-1zM67 44h1v1h-1zM69 44h1v1h-1zM71 44h1v1h-1zM16 45h1v1h-1zM21 45h1v1h-1zM41 45h1v1h-1zM44 45h1v1h-1zM48 45h1v1h-1zM51 45h1v1h-1zM53 45h1v1h-1zM62 45h1v1h-1zM2 46h1v1h-1zM13 46h1v1h-1zM14 46h1v1h-1zM25 46h1v1h-1zM29 46h1v1h-1zM34 46h1v1h-1zM36 46h1v1h-1zM41 46h1v1h-1zM52 46h1v1h-1zM54 46h1v1h-1zM59 46h1v1h-1zM60 46h1v1h-1zM16 47h1v1h-1zM20 47h1v1h-1zM22 47h1v1h-1zM23 47h1v1h-1zM31 47h1v1h-1zM32 47h1v1h-1zM61 47h1v1h-1zM62 47h1v1h-1zM6 48h1v1h-1zM16 48h1v1h-1zM28 48h1v1h-1zM46 48h1v1h-1zM61 48h1v1h-1zM63 48h1v1h-1zM65 48h1v1h-1zM5 49h1v1h-1zM16 49h1v1h-1zM25 49h1v1h-1zM27 49h1v1h-1zM50 49h1v1h-1zM12 50h1v1h-1zM41 50h1v1h-1zM44 50h1v1h-1zM47 50h1v1h-1zM51 50h1v1h-1zM58 50h1v1h-1zM66 50h1v1h-1zM15 51h1v1h-1zM19 51h1v1h-1zM23 51h1v1h-1zM37 51h1v1h-1zM42 51h1v1h-1zM47 51h1v1h-1zM51 51h1v1h-1zM56 51h1v1h-1zM61 51h1v1h-1zM65 51h1v1h-1zM69 51h1v1h-1zM2 52h1v1h-1zM3 52h1v1h-1zM6 52h1v1h-1zM9 52h1v1h-1zM20 52h1v1h-1zM21 52h1v1h-1zM28 52h1v1h-1zM36 52h1v1h-1zM59 52h1v1h-1zM64 52h1v1h-1zM71 52h1v1h-1zM2 53h1v1h-1zM5 53h1v1h-1zM8 53h1v1h-1zM12 53h1v1h-1zM13 53h1v1h-1zM40 53h1v1h-1zM48 53h1v1h-1zM53 53h1v1h-1zM59 53h1v1h-1zM63 53h1v1h-1zM1 54h1v1h-1zM15 54h1v1h-1zM24 54h1v1h-1zM28 54h1v1h-1zM50 54h1v1h-1zM56 54h1v1h-1zM61 54h1v1h-1zM62 54h1v1h-1zM63 54h1v1h-1zM65 54h1v1h-1zM7 55h1v1h-1zM10 55h1v1h-1zM28 55h1v1h-1zM31 55h1v1h-1zM35 55h1v1h-1zM37 55h1v1h-1zM41 55h1v1h-1zM42 55h1v1h-1zM48 55h1v1h-1zM69 55h1v1h-1zM7 56h1v1h-1zM12 56h1v1h-1zM18 56h1v1h-1zM23 56h1v1h-1zM27 56h1v1h-1zM31 56h1v1h-1zM52 56h1v1h-1zM53 56h1v1h-1zM55 56h1v1h-1zM4 57h1v1h-1zM8 57h1v1h-1zM11 57h1v1h-1zM12 57h1v1h-1zM23 57h1v1h-1zM32 57h1v1h-1zM35 57h1v1h-1zM50 57h1v1h-1zM54 57h1v1h-1zM58 57h1v1h-1zM61 57h1v1h-1zM11 58h1v1h-1zM37 58h1v1h-1zM40 58h1v1h-1zM47 58h1v1h-1zM57 58h1v1h-1zM0 59h1v1h-1zM1 59h1v1h-1zM6 59h1v1h-1zM9 59h1v1h-1zM40 59h1v1h-1zM42 59h1v1h-1zM44 59h1v1h-1zM50 59h1v1h-1zM54 59h1v1h-1zM58 59h1v1h-1zM59 59h1v1h-1zM64 59h1v1h-1zM70 59h1v1h-1zM71 59h1v1h-1zM2 60h1v1h-1zM3 60h1v1h-1zM6 60h1v1h-1zM11 60h1v1h-1zM36 60h1v1h-1zM43 60h1v1h-1zM46 60h1v1h-1zM48 60h1v1h-1zM49 60h1v1h-1zM63 60h1v1h-1zM64 60h1v1h-1zM70 60h1v1h-1zM27 61h1v1h-1zM28 61h1v1h-1zM32 61h1v1h-1zM37 61h1v1h-1zM38 61h1v1h-1zM46 61h1v1h-1zM51 61h1v1h-1zM63 61h1v1h-1zM66 61h1v1h-1zM67 61h1v1h-1zM70 61h1v1h-1zM8 62h1v1h-1zM9 62h1v1h-1zM10 62h1v1h-1zM15 62h1v1h-1zM19 62h1v1h-1zM29 62h1v1h-1zM33 62h1v1h-1zM43 62h1v1h-1zM45 62h1v1h-1zM56 62h1v1h-1zM57 62h1v1h-1zM58 62h1v1h-1zM60 62h1v1h-1zM68 62h1v1h-1zM71 62h1v1h-1zM9 63h1v1h-1zM12 63h1v1h-1zM15 63h1v1h-1zM17 63h1v1h-1zM44 63h1v1h-1zM45 63h1v1h-1zM50 63h1v1h-1zM51 63h1v1h-1zM65 63h1v1h-1zM66 63h1v1h-1zM67 63h1v1h-1zM69 63h1v1h-1zM8 64h1v1h-1zM25 64h1v1h-1zM26 64h1v1h-1zM29 64h1v1h-1zM37 64h1v1h-1zM40 64h1v1h-1zM52 64h1v1h-1zM55 64h1v1h-1zM59 64h1v1h-1zM65 64h1v1h-1zM69 64h1v1h-1zM6 65h1v1h-1zM20 65h1v1h-1zM21 65h1v1h-1zM22 65h1v1h-1zM24 65h1v1h-1zM47 65h1v1h-1zM50 65h1v1h-1zM53 65h1v1h-1zM56 65h1v1h-1zM62 65h1v1h-1zM0 66h1v1h-1zM1 66h1v1h-1zM10 66h1v1h-1zM14 66h1v1h-1zM37 66h1v1h-1zM47 66h1v1h-1zM59 66h1v1h-1zM62 66h1v1h-1zM65 66h1v1h-1zM67 66h1v1h-1zM2 67h1v1h-1zM4 67h1v1h-1zM36 67h1v1h-1zM39 67h1v1h-1zM51 67h1v1h-1zM55 67h1v1h-1zM59 67h1v1h-1zM63 67h1v1h-1zM64 67h1v1h-1zM65 67h1v1h-1zM3 68h1v1h-1zM5 68h1v1h-1zM14 68h1v1h-1zM38 68h1v1h-1zM52 68h1v1h-1zM64 68h1v1h-1zM71 68h1v1h-1zM0 69h1v1h-1zM7 69h1v1h-1zM24 69h1v1h-1zM28 69h1v1h-1zM53 69h1v1h-1zM55 69h1v1h-1zM60 69h1v1h-1zM63 69h1v1h-1zM3 70h1v1h-1zM11 70h1v1h-1zM12 70h1v1h-1zM13 70h1v1h-1zM24 70h1v1h-1zM39 70h1v1h-1zM40 70h1v1h-1zM46 70h1v1h-1zM70 70h1v1h-1zM71 70h1v1h-1zM2 71h1v1h-1zM14 71h1v1h-1zM21 71h1v1h-1zM26 71h1v1h-1zM48 71h1v1h-1zM64 71h1v1h-1zM70 71h1v1h-1z"/>
<path fill="#8c91b6" d="M7 0h1v1h-1zM12 0h1v1h-1zM34 0h1v1h-1zM53 0h1v1h-1zM55 0h1v1h-1zM4 1h1v1h-1zM29 1h1v1h-1zM30 1h1v1h-1zM34 1h1v1h-1zM35 1h1v1h-1zM39 1h1v1h-1zM47 1h1v1h-1zM51 1h1v1h-1zM55 1h1v1h-1zM56 1h1v1h-1zM58 1h1v1h-1zM60 1h1v1h-1zM66 1h1v1h-1zM9 2h1v1h-1zM20 2h1v1h-1zM34 2h1v1h-1zM35 2h1v1h-1zM39 2h1v1h-1zM47 2h1v1h-1zM54 2h1v1h-1zM60 2h1v1h-1zM68 2h1v1h-1zM3 3h1v1h-1zM5 3h1v1h-1zM17 3h1v1h-1zM37 3h1v1h-1zM47 3h1v1h-1zM48 3h1v1h-1zM51 3h1v1h-1zM53 3h1v1h-1zM56 3h1v1h-1zM61 3h1v1h-1zM71 3h1v1h-1zM6 4h1v1h-1zM9 4h1v1h-1zM10 4h1v1h-1zM16 4h1v1h-1zM22 4h1v1h-1zM26 4h1v1h-1zM37 4h1v1h-1zM42 4h1v1h-1zM44 4h1v1h-1zM70 4h1v1h-1zM10 5h1v1h-1zM13 5h1v1h-1zM20 5h1v1h-1zM28 5h1v1h-1zM43 5h1v1h-1zM69 5h1v1h-1zM71 5h1v1h-1zM9 6h1v1h-1zM12 6h1v1h-1zM15 6h1v1h-1zM16 6h1v1h-1zM29 6h1v1h-1zM36 6h1v1h-1zM48 6h1v1h-1zM52 6h1v1h-1zM61 6h1v1h-1zM66 6h1v1h-1zM70 6h1v1h-1zM3 7h1v1h-1zM11 7h1v1h-1zM17 7h1v1h-1zM18 7h1v1h-1zM19 7h1v1h-1zM29 7h1v1h-1zM30 7h1v1h-1zM37 7h1v1h-1zM50 7h1v1h-1zM60 7h1v1h-1zM68 7h1v1h-1zM22 8h1v1h-1zM30 8h1v1h-1zM33 8h1v1h-1zM39 8h1v1h-1zM40 8h1v1h-1zM41 8h1v1h-1zM44 8h1v1h-1zM49 8h1v1h-1zM54 8h1v1h-1zM70 8h1v1h-1zM1 9h1v1h-1zM16 9h1v1h-1zM24 9h1v1h-1zM32 9h1v1h-1zM37 9h1v1h-1zM59 9h1v1h-1zM21 10h1v1h-1zM22 10h1v1h-1zM23 10h1v1h-1zM41 10h1v1h-1zM51 10h1v1h-1zM1 11h1v1h-1zM5 11h1v1h-1zM12 11h1v1h-1zM20 11h1v1h-1zM26 11h1v1h-1zM33 11h1v1h-1zM35 11h1v1h-1zM41 11h1v1h-1zM54 11h1v1h-1zM56 11h1v1h-1zM60 11h1v1h-1zM61 11h1v1h-1zM66 11h1v1h-1zM70 11h1v1h-1zM6 12h1v1h-1zM16 12h1v1h-1zM20 12h1v1h-1zM22 12h1v1h-1zM27 12h1v1h-1zM43 12h1v1h-1zM49 12h1v1h-1zM57 12h1v1h-1zM66 12h1v1h-1zM70 12h1v1h-1zM71 12h1v1h-1zM3 13h1v1h-1zM9 13h1v1h-1zM13 13h1v1h-1zM22 13h1v1h-1zM24 13h1v1h-1zM32 13h1v1h-1zM35 13h1v1h-1zM53 13h1v1h-1zM63 13h1v1h-1zM6 14h1v1h-1zM19 14h1v1h-1zM21 14h1v1h-1zM30 14h1v1h-1zM35 14h1v1h-1zM37 14h1v1h-1zM42 14h1v1h-1zM43 14h1v1h-1zM47 14h1v1h-1zM0 15h1v1h-1zM5 15h1v1h-1zM13 15h1v1h-1zM15 15h1v1h-1zM21 15h1v1h-1zM24 15h1v1h-1zM28 15h1v1h-1zM32 15h1v1h-1zM36 15h1v1h-1zM38 15h1v1h-1zM45 15h1v1h-1zM49 15h1v1h-1zM50 15h1v1h-1zM53 15h1v1h-1zM57 15h1v1h-1zM69 15h1v1h-1zM13 16h1v1h-1zM20 16h1v1h-1zM21 16h1v1h-1zM32 16h1v1h-1zM37 16h1v1h-1zM42 16h1v1h-1zM48 16h1v1h-1zM49 16h1v1h-1zM65 16h1v1h-1zM66 16h1v1h-1zM0 17h1v1h-1zM10 17h1v1h-1zM11 17h1v1h-1zM13 17h1v1h-1zM14 17h1v1h-1zM35 17h1v1h-1zM44 17h1v1h-1zM45 17h1v1h-1zM46 17h1v1h-1zM48 17h1v1h-1zM57 17h1v1h-1zM62 17h1v1h-1zM69 17h1v1h-1zM7 18h1v1h-1zM21 18h1v1h-1zM23 18h1v1h-1zM26 18h1v1h-1zM28 18h1v1h-1zM29 18h1v1h-1zM35 18h1v1h-1zM41 18h1v1h-1zM48 18h1v1h-1zM54 18h1v1h-1zM55 18h1v1h-1zM56 18h1v1h-1zM59 18h1v1h-1zM3 19h1v1h-1zM8 19h1v1h-1zM15 19h1v1h-1zM17 19h1v1h-1zM20 19h1v1h-1zM23 19h1v1h-1zM24 19h1v1h-1zM26 19h1v1h-1zM33 19h1v1h-1zM45 19h1v1h-1zM49 19h1v1h-1zM55 19h1v1h-1zM70 19h1v1h-1zM1 20h1v1h-1zM3 20h1v1h-1zM6 20h1v1h-1zM8 20h1v1h-1zM14 20h1v1h-1zM16 20h1v1h-1zM25 20h1v1h-1zM27 20h1v1h-1zM33 20h1v1h-1zM53 20h1v1h-1zM67 20h1v1h-1zM1 21h1v1h-1zM30 21h1v1h-1zM36 21h1v1h-1zM41 21h1v1h-1zM42 21h1v1h-1zM50 21h1v1h-1zM54 21h1v1h-1zM60 21h1v1h-1zM65 21h1v1h-1zM3 22h1v1h-1zM5 22h1v1h-1zM6 22h1v1h-1zM10 22h1v1h-1zM11 22h1v1h-1zM16 22h1v1h-1zM34 22h1v1h-1zM35 22h1v1h-1zM38 22h1v1h-1zM40 22h1v1h-1zM49 22h1v1h-1zM53 22h1v1h-1zM60 22h1v1h-1zM66 22h1v1h-1zM0 23h1v1h-1zM1 23h1v1h-1zM7 23h1v1h-1zM18 23h1v1h-1zM32 23h1v1h-1zM34 23h1v1h-1zM39 23h1v1h-1zM47 23h1v1h-1zM56 23h1v1h-1zM64 23h1v1h-1zM65 23h1v1h-1zM66 23h1v1h-1zM69 23h1v1h-1zM1 24h1v1h-1zM6 24h1v1h-1zM9 24h1v1h-1zM14 24h1v1h-1zM20 24h1v1h-1zM23 24h1v1h-1zM35 24h1v1h-1zM41 24h1v1h-1zM43 24h1v1h-1zM46 24h1v1h-1zM51 24h1v1h-1zM70 24h1v1h-1zM1 25h1v1h-1zM13 25h1v1h-1zM15 25h1v1h-1zM23 25h1v1h-1zM26 25h1v1h-1zM31 25h1v1h-1zM38 25h1v1h-1zM39 25h1v1h-1zM41 25h1v1h-1zM43 25h1v1h-1zM51 25h1v1h-1zM61 25h1v1h-1zM12 26h1v1h-1zM24 26h1v1h-1zM25 26h1v1h-1zM26 26h1v1h-1zM32 26h1v1h-1zM59 26h1v1h-1zM67 26h1v1h-1zM70 26h1v1h-1zM7 27h1v1h-1zM13 27h1v1h-1zM16 27h1v1h-1zM21 27h1v1h-1zM36 27h1v1h-1zM61 27h1v1h-1zM67 27h1v1h-1zM14 28h1v1h-1zM18 28h1v1h-1zM26 28h1v1h-1zM33 28h1v1h-1zM47 28h1v1h-1zM53 28h1v1h-1zM58 28h1v1h-1zM60 28h1v1h-1zM69 28h1v1h-1zM71 28h1v1h-1zM6 29h1v1h-1zM9 29h1v1h-1zM13 29h1v1h-1zM21 29h1v1h-1zM22 29h1v1h-1zM28 29h1v1h-1zM54 29h1v1h-1zM58 29h1v1h-1zM68 29h1v1h-1zM69 29h1v1h-1zM2 30h1v1h-1zM15 30h1v1h-1zM17 30h1v1h-1zM25 30h1v1h-1zM26 30h1v1h-1zM30 30h1v1h-1zM39 30h1v1h-1zM40 30h1v1h-1zM59 30h1v1h-1zM71 30h1v1h-1zM2 31h1v1h-1zM11 31h1v1h-1zM12 31h1v1h-1zM17 31h1v1h-1zM18 31h1v1h-1zM20 31h1v1h-1zM22 31h1v1h-1zM34 31h1v1h-1zM47 31h1v1h-1zM54 31h1v1h-1zM0 32h1v1h-1zM6 32h1v1h-1zM21 32h1v1h-1zM33 32h1v1h-1zM40 32h1v1h-1zM42 32h1v1h-1zM44 32h1v1h-1zM51 32h1v1h-1zM64 32h1v1h-1zM0 33h1v1h-1zM5 33h1v1h-1zM6 33h1v1h-1zM17 33h1v1h-1zM21 33h1v1h-1zM26 33h1v1h-1zM27 33h1v1h-1zM30 33h1v1h-1zM37 33h1v1h-1zM44 33h1v1h-1zM59 33h1v1h-1zM68 33h1v1h-1zM18 34h1v1h-1zM21 34h1v1h-1zM30 34h1v1h-1zM32 34h1v1h-1zM33 34h1v1h-1zM41 34h1v1h-1zM52 34h1v1h-1zM54 34h1v1h-1zM58 34h1v1h-1zM60 34h1v1h-1zM66 34h1v1h-1zM70 34h1v1h-1zM0 35h1v1h-1zM2 35h1v1h-1zM3 35h1v1h-1zM7 35h1v1h-1zM12 35h1v1h-1zM13 35h1v1h-1zM16 35h1v1h-1zM36 35h1v1h-1zM38 35h1v1h-1zM44 35h1v1h-1zM47 35h1v1h-1zM57 35h1v1h-1zM58 35h1v1h-1zM61 35h1v1h-1zM64 35h1v1h-1zM66 35h1v1h-1zM0 36h1v1h-1zM2 36h1v1h-1zM12 36h1v1h-1zM20 36h1v1h-1zM21 36h1v1h-1zM34 36h1v1h-1zM44 36h1v1h-1zM54 36h1v1h-1zM55 36h1v1h-1zM61 36h1v1h-1zM1 37h1v1h-1zM4 37h1v1h-1zM7 37h1v1h-1zM17 37h1v1h-1zM18 37h1v1h-1zM25 37h1v1h-1zM41 37h1v1h-1zM44 37h1v1h-1zM49 37h1v1h-1zM58 37h1v1h-1zM60 37h1v1h-1zM61 37h1v1h-1zM64 37h1v1h-1zM69 37h1v1h-1zM16 38h1v1h-1zM28 38h1v1h-1zM42 38h1v1h-1zM62 38h1v1h-1zM68 38h1v1h-1zM5 39h1v1h-1zM10 39h1v1h-1zM27 39h1v1h-1zM33 39h1v1h-1zM43 39h1v1h-1zM48 39h1v1h-1zM60 39h1v1h-1zM5 40h1v1h-1zM13 40h1v1h-1zM18 40h1v1h-1zM21 40h1v1h-1zM27 40h1v1h-1zM37 40h1v1h-1zM47 40h1v1h-1zM49 40h1v1h-1zM54 40h1v1h-1zM68 40h1v1h-1zM5 41h1v1h-1zM7 41h1v1h-1zM37 41h1v1h-1zM43 41h1v1h-1zM44 41h1v1h-1zM48 41h1v1h-1zM55 41h1v1h-1zM61 41h1v1h-1zM65 41h1v1h-1zM66 41h1v1h-1zM19 42h1v1h-1zM35 42h1v1h-1zM37 42h1v1h-1zM38 42h1v1h-1zM49 42h1v1h-1zM61 42h1v1h-1zM65 42h1v1h-1zM66 42h1v1h-1zM2 43h1v1h-1zM11 43h1v1h-1zM12 43h1v1h-1zM20 43h1v1h-1zM30 43h1v1h-1zM39 43h1v1h-1zM52 43h1v1h-1zM65 43h1v1h-1zM66 43h1v1h-1zM6 44h1v1h-1zM11 44h1v1h-1zM28 44h1v1h-1zM36 44h1v1h-1zM59 44h1v1h-1zM61 44h1v1h-1zM62 44h1v1h-1zM2 45h1v1h-1zM18 45h1v1h-1zM27 45h1v1h-1zM45 45h1v1h-1zM46 45h1v1h-1zM47 45h1v1h-1zM56 45h1v1h-1zM60 45h1v1h-1zM63 45h1v1h-1zM0 46h1v1h-1zM5 46h1v1h-1zM11 46h1v1h-1zM12 46h1v1h-1zM18 46h1v1h-1zM30 46h1v1h-1zM38 46h1v1h-1zM47 46h1v1h-1zM51 46h1v1h-1zM62 46h1v1h-1zM69 46h1v1h-1zM3 47h1v1h-1zM13 47h1v1h-1zM36 47h1v1h-1zM39 47h1v1h-1zM40 47h1v1h-1zM41 47h1v1h-1zM45 47h1v1h-1zM52 47h1v1h-1zM68 47h1v1h-1zM71 47h1v1h-1zM3 48h1v1h-1zM15 48h1v1h-1zM18 48h1v1h-1zM24 48h1v1h-1zM25 48h1v1h-1zM42 48h1v1h-1zM49 48h1v1h-1zM52 48h1v1h-1zM62 48h1v1h-1zM66 48h1v1h-1zM0 49h1v1h-1zM9 49h1v1h-1zM10 49h1v1h-1zM14 49h1v1h-1zM15 49h1v1h-1zM21 49h1v1h-1zM30 49h1v1h-1zM49 49h1v1h-1zM0 50h1v1h-1zM1 50h1v1h-1zM6 50h1v1h-1zM13 50h1v1h-1zM16 50h1v1h-1zM31 50h1v1h-1zM32 50h1v1h-1zM48 50h1v1h-1zM49 50h1v1h-1zM52 50h1v1h-1zM55 50h1v1h-1zM56 50h1v1h-1zM57 50h1v1h-1zM62 50h1v1h-1zM67 50h1v1h-1zM1 51h1v1h-1zM3 51h1v1h-1zM13 51h1v1h-1zM21 51h1v1h-1zM26 51h1v1h-1zM30 51h1v1h-1zM31 51h1v1h-1zM34 51h1v1h-1zM38 51h1v1h-1zM46 51h1v1h-1zM5 52h1v1h-1zM8 52h1v1h-1zM13 52h1v1h-1zM14 52h1v1h-1zM30 52h1v1h-1zM68 52h1v1h-1zM70 52h1v1h-1zM10 53h1v1h-1zM18 53h1v1h-1zM29 53h1v1h-1zM34 53h1v1h-1zM42 53h1v1h-1zM44 53h1v1h-1zM46 53h1v1h-1zM51 53h1v1h-1zM52 53h1v1h-1zM71 53h1v1h-1zM17 54h1v1h-1zM20 54h1v1h-1zM30 54h1v1h-1zM39 54h1v1h-1zM48 54h1v1h-1zM70 54h1v1h-1zM5 55h1v1h-1zM12 55h1v1h-1zM20 55h1v1h-1zM21 55h1v1h-1zM24 55h1v1h-1zM33 55h1v1h-1zM40 55h1v1h-1zM43 55h1v1h-1zM56 55h1v1h-1zM61 55h1v1h-1zM64 55h1v1h-1zM66 55h1v1h-1zM67 55h1v1h-1zM70 55h1v1h-1zM4 56h1v1h-1zM9 56h1v1h-1zM15 56h1v1h-1zM16 56h1v1h-1zM20 56h1v1h-1zM21 56h1v1h-1zM30 56h1v1h-1zM35 56h1v1h-1zM51 56h1v1h-1zM59 56h1v1h-1zM65 56h1v1h-1zM66 56h1v1h-1zM71 56h1v1h-1zM0 57h1v1h-1zM1 57h1v1h-1zM2 57h1v1h-1zM8 58h1v1h-1zM20 58h1v1h-1zM31 58h1v1h-1zM32 58h1v1h-1zM34 58h1v1h-1zM38 58h1v1h-1zM39 58h1v1h-1zM49 58h1v1h-1zM50 58h1v1h-1zM51 58h1v1h-1zM53 58h1v1h-1zM25 59h1v1h-1zM27 59h1v1h-1zM31 59h1v1h-1zM57 59h1v1h-1zM61 59h1v1h-1zM66 59h1v1h-1zM8 60h1v1h-1zM18 60h1v1h-1zM25 60h1v1h-1zM32 60h1v1h-1zM45 60h1v1h-1zM65 60h1v1h-1zM66 60h1v1h-1zM9 61h1v1h-1zM17 61h1v1h-1zM22 61h1v1h-1zM25 61h1v1h-1zM35 61h1v1h-1zM36 61h1v1h-1zM41 61h1v1h-1zM43 61h1v1h-1zM44 61h1v1h-1zM45 61h1v1h-1zM49 61h1v1h-1zM52 61h1v1h-1zM54 61h1v1h-1zM58 61h1v1h-1zM59 61h1v1h-1zM60 61h1v1h-1zM65 61h1v1h-1zM14 62h1v1h-1zM26 62h1v1h-1zM41 62h1v1h-1zM53 62h1v1h-1zM63 62h1v1h-1zM70 62h1v1h-1zM7 63h1v1h-1zM10 63h1v1h-1zM21 63h1v1h-1zM28 63h1v1h-1zM49 63h1v1h-1zM55 63h1v1h-1zM62 63h1v1h-1zM70 63h1v1h-1zM2 64h1v1h-1zM3 64h1v1h-1zM4 64h1v1h-1zM15 64h1v1h-1zM16 64h1v1h-1zM19 64h1v1h-1zM21 64h1v1h-1zM44 64h1v1h-1zM57 64h1v1h-1zM58 64h1v1h-1zM68 64h1v1h-1zM0 65h1v1h-1zM4 65h1v1h-1zM11 65h1v1h-1zM27 65h1v1h-1zM32 65h1v1h-1zM34 65h1v1h-1zM37 65h1v1h-1zM38 65h1v1h-1zM39 65h1v1h-1zM45 65h1v1h-1zM60 65h1v1h-1zM63 65h1v1h-1zM65 65h1v1h-1zM67 65h1v1h-1zM9 66h1v1h-1zM18 66h1v1h-1zM19 66h1v1h-1zM35 66h1v1h-1zM40 66h1v1h-1zM44 66h1v1h-1zM45 66h1v1h-1zM49 66h1v1h-1zM50 66h1v1h-1zM53 66h1v1h-1zM55 66h1v1h-1zM56 66h1v1h-1zM69 66h1v1h-1zM0 67h1v1h-1zM10 67h1v1h-1zM20 67h1v1h-1zM23 67h1v1h-1zM27 67h1v1h-1zM45 67h1v1h-1zM53 67h1v1h-1zM58 67h1v1h-1zM70 67h1v1h-1zM0 68h1v1h-1zM1 68h1v1h-1zM4 68h1v1h-1zM33 68h1v1h-1zM34 68h1v1h-1zM46 68h1v1h-1zM50 68h1v1h-1zM53 68h1v1h-1zM55 68h1v1h-1zM63 68h1v1h-1zM1 69h1v1h-1zM6 69h1v1h-1zM14 69h1v1h-1zM20 69h1v1h-1zM49 69h1v1h-1zM57 69h1v1h-1zM68 69h1v1h-1zM0 70h1v1h-1zM1 70h1v1h-1zM14 70h1v1h-1zM23 70h1v1h-1zM32 70h1v1h-1zM49 70h1v1h-1zM56 70h1v1h-1zM64 70h1v1h-1zM0 71h1v1h-1zM8 71h1v1h-1zM27 71h1v1h-1zM28 71h1v1h-1zM31 71h1v1h-1zM52 71h1v1h-1zM61 71h1v1h-1zM62 71h1v1h-1zM69 71h1v1h-1z"/>
<path fill="#bcc0c8" d="M14 0h1v1h-1zM15 0h1v1h-1zM24 0h1v1h-1zM47 0h1v1h-1zM65 0h1v1h-1zM14 1h1v1h-1zM18 1h1v1h-1zM32 1h1v1h-1zM15 2h1v1h-1zM17 2h1v1h-1zM45 2h1v1h-1zM70 2h1v1h-1zM71 2h1v1h-1zM10 3h1v1h-1zM12 3h1v1h-1zM14 3h1v1h-1zM22 3h1v1h-1zM23 3h1v1h-1zM26 3h1v1h-1zM31 3h1v1h-1zM32 3h1v1h-1zM44 3h1v1h-1zM70 3h1v1h-1zM1 4h1v1h-1zM13 4h1v1h-1zM19 4h1v1h-1zM23 4h1v1h-1zM43 4h1v1h-1zM47 4h1v1h-1zM69 4h1v1h-1zM6 5h1v1h-1zM12 5h1v1h-1zM22 5h1v1h-1zM25 5h1v1h-1zM40 5h1v1h-1zM62 5h1v1h-1zM0 6h1v1h-1zM1 6h1v1h-1zM14 6h1v1h-1zM68 6h1v1h-1zM23 7h1v1h-1zM25 7h1v1h-1zM31 7h1v1h-1zM51 7h1v1h-1zM63 7h1v1h-1zM67 7h1v1h-1zM13 8h1v1h-1zM20 8h1v1h-1zM26 8h1v1h-1zM46 8h1v1h-1zM53 8h1v1h-1zM60 8h1v1h-1zM69 8h1v1h-1zM17 9h1v1h-1zM35 9h1v1h-1zM42 9h1v1h-1zM57 9h1v1h-1zM63 9h1v1h-1zM71 9h1v1h-1zM3 10h1v1h-1zM17 10h1v1h-1zM27 10h1v1h-1zM32 10h1v1h-1zM33 10h1v1h-1zM36 10h1v1h-1zM57 10h1v1h-1zM6 11h1v1h-1zM9 11h1v1h-1zM29 11h1v1h-1zM43 11h1v1h-1zM71 11h1v1h-1zM36 12h1v1h-1zM58 12h1v1h-1zM61 12h1v1h-1zM63 12h1v1h-1zM0 13h1v1h-1zM28 13h1v1h-1zM33 13h1v1h-1zM59 13h1v1h-1zM66 13h1v1h-1zM69 13h1v1h-1zM70 13h1v1h-1zM38 14h1v1h-1zM45 14h1v1h-1zM65 14h1v1h-1zM18 15h1v1h-1zM31 15h1v1h-1zM34 15h1v1h-1zM52 15h1v1h-1zM59 15h1v1h-1zM70 15h1v1h-1zM3 16h1v1h-1zM11 16h1v1h-1zM39 16h1v1h-1zM63 16h1v1h-1zM70 16h1v1h-1zM20 17h1v1h-1zM23 17h1v1h-1zM1 18h1v1h-1zM10 18h1v1h-1zM19 18h1v1h-1zM25 18h1v1h-1zM38 18h1v1h-1zM19 19h1v1h-1zM22 19h1v1h-1zM30 19h1v1h-1zM31 19h1v1h-1zM52 19h1v1h-1zM5 20h1v1h-1zM7 20h1v1h-1zM15 20h1v1h-1zM21 20h1v1h-1zM61 20h1v1h-1zM63 20h1v1h-1zM4 21h1v1h-1zM14 21h1v1h-1zM21 21h1v1h-1zM27 21h1v1h-1zM37 21h1v1h-1zM45 21h1v1h-1zM46 21h1v1h-1zM51 21h1v1h-1zM55 21h1v1h-1zM14 22h1v1h-1zM21 22h1v1h-1zM22 22h1v1h-1zM29 22h1v1h-1zM41 22h1v1h-1zM54 22h1v1h-1zM3 23h1v1h-1zM16 23h1v1h-1zM41 23h1v1h-1zM61 23h1v1h-1zM27 24h1v1h-1zM37 24h1v1h-1zM3 25h1v1h-1zM12 25h1v1h-1zM37 25h1v1h-1zM47 25h1v1h-1zM68 25h1v1h-1zM0 26h1v1h-1zM5 26h1v1h-1zM13 26h1v1h-1zM18 26h1v1h-1zM19 26h1v1h-1zM29 26h1v1h-1zM34 26h1v1h-1zM35 26h1v1h-1zM36 26h1v1h-1zM53 26h1v1h-1zM55 26h1v1h-1zM60 26h1v1h-1zM63 26h1v1h-1zM64 26h1v1h-1zM66 26h1v1h-1zM49 27h1v1h-1zM51 27h1v1h-1zM53 27h1v1h-1zM63 27h1v1h-1zM66 27h1v1h-1zM69 27h1v1h-1zM71 27h1v1h-1zM7 28h1v1h-1zM29 28h1v1h-1zM32 28h1v1h-1zM0 29h1v1h-1zM11 29h1v1h-1zM18 29h1v1h-1zM24 29h1v1h-1zM25 29h1v1h-1zM37 29h1v1h-1zM46 29h1v1h-1zM63 29h1v1h-1zM71 29h1v1h-1zM9 30h1v1h-1zM11 30h1v1h-1zM12 30h1v1h-1zM14 30h1v1h-1zM23 30h1v1h-1zM31 30h1v1h-1zM55 30h1v1h-1zM35 31h1v1h-1zM44 31h1v1h-1zM51 31h1v1h-1zM52 31h1v1h-1zM59 31h1v1h-1zM12 32h1v1h-1zM3 33h1v1h-1zM11 33h1v1h-1zM15 33h1v1h-1zM29 33h1v1h-1zM50 33h1v1h-1zM55 33h1v1h-1zM56 33h1v1h-1zM64 33h1v1h-1zM7 34h1v1h-1zM8 34h1v1h-1zM16 34h1v1h-1zM35 34h1v1h-1zM55 34h1v1h-1zM4 35h1v1h-1zM32 35h1v1h-1zM35 35h1v1h-1zM37 35h1v1h-1zM65 35h1v1h-1zM6 36h1v1h-1zM10 36h1v1h-1zM15 36h1v1h-1zM33 36h1v1h-1zM37 36h1v1h-1zM65 36h1v1h-1zM69 36h1v1h-1zM21 37h1v1h-1zM63 37h1v1h-1zM67 37h1v1h-1zM4 38h1v1h-1zM14 38h1v1h-1zM25 38h1v1h-1zM39 38h1v1h-1zM46 38h1v1h-1zM50 38h1v1h-1zM57 38h1v1h-1zM59 38h1v1h-1zM69 38h1v1h-1zM4 39h1v1h-1zM36 39h1v1h-1zM38 39h1v1h-1zM42 39h1v1h-1zM46 39h1v1h-1zM63 39h1v1h-1zM23 40h1v1h-1zM26 40h1v1h-1zM41 40h1v1h-1zM46 40h1v1h-1zM65 40h1v1h-1zM67 40h1v1h-1zM8 41h1v1h-1zM10 41h1v1h-1zM21 41h1v1h-1zM32 41h1v1h-1zM38 41h1v1h-1zM45 41h1v1h-1zM59 41h1v1h-1zM70 41h1v1h-1zM71 41h1v1h-1zM11 42h1v1h-1zM16 42h1v1h-1zM44 42h1v1h-1zM54 42h1v1h-1zM60 42h1v1h-1zM1 43h1v1h-1zM3 43h1v1h-1zM10 43h1v1h-1zM22 43h1v1h-1zM23 43h1v1h-1zM32 43h1v1h-1zM36 43h1v1h-1zM37 43h1v1h-1zM4 44h1v1h-1zM5 44h1v1h-1zM23 44h1v1h-1zM37 44h1v1h-1zM38 44h1v1h-1zM46 44h1v1h-1zM54 44h1v1h-1zM65 44h1v1h-1zM10 45h1v1h-1zM11 45h1v1h-1zM17 45h1v1h-1zM59 45h1v1h-1zM71 45h1v1h-1zM1 46h1v1h-1zM26 46h1v1h-1zM37 46h1v1h-1zM40 46h1v1h-1zM61 46h1v1h-1zM18 47h1v1h-1zM27 47h1v1h-1zM46 47h1v1h-1zM11 48h1v1h-1zM22 48h1v1h-1zM32 48h1v1h-1zM48 48h1v1h-1zM51 48h1v1h-1zM58 48h1v1h-1zM1 49h1v1h-1zM6 49h1v1h-1zM18 49h1v1h-1zM34 49h1v1h-1zM39 49h1v1h-1zM44 49h1v1h-1zM46 49h1v1h-1zM47 49h1v1h-1zM46 50h1v1h-1zM50 50h1v1h-1zM12 51h1v1h-1zM20 51h1v1h-1zM60 51h1v1h-1zM66 51h1v1h-1zM29 52h1v1h-1zM41 52h1v1h-1zM62 52h1v1h-1zM6 53h1v1h-1zM16 53h1v1h-1zM32 53h1v1h-1zM49 53h1v1h-1zM54 53h1v1h-1zM61 53h1v1h-1zM16 54h1v1h-1zM19 54h1v1h-1zM26 54h1v1h-1zM33 54h1v1h-1zM42 54h1v1h-1zM57 54h1v1h-1zM68 54h1v1h-1zM4 55h1v1h-1zM8 55h1v1h-1zM14 55h1v1h-1zM30 55h1v1h-1zM36 55h1v1h-1zM2 56h1v1h-1zM13 56h1v1h-1zM61 56h1v1h-1zM70 56h1v1h-1zM3 57h1v1h-1zM21 57h1v1h-1zM26 57h1v1h-1zM30 57h1v1h-1zM39 57h1v1h-1zM45 57h1v1h-1zM48 57h1v1h-1zM0 58h1v1h-1zM4 58h1v1h-1zM5 58h1v1h-1zM10 58h1v1h-1zM24 58h1v1h-1zM59 58h1v1h-1zM7 59h1v1h-1zM10 59h1v1h-1zM36 59h1v1h-1zM48 59h1v1h-1zM51 59h1v1h-1zM60 59h1v1h-1zM65 59h1v1h-1zM7 60h1v1h-1zM9 60h1v1h-1zM20 60h1v1h-1zM33 60h1v1h-1zM34 60h1v1h-1zM44 60h1v1h-1zM58 60h1v1h-1zM60 60h1v1h-1zM61 60h1v1h-1zM6 61h1v1h-1zM29 61h1v1h-1zM39 61h1v1h-1zM69 61h1v1h-1zM1 62h1v1h-1zM2 62h1v1h-1zM4 62h1v1h-1zM6 62h1v1h-1zM13 62h1v1h-1zM18 62h1v1h-1zM22 62h1v1h-1zM37 62h1v1h-1zM44 62h1v1h-1zM61 62h1v1h-1zM22 63h1v1h-1zM41 63h1v1h-1zM54 63h1v1h-1zM13 64h1v1h-1zM46 64h1v1h-1zM56 64h1v1h-1zM63 64h1v1h-1zM70 64h1v1h-1zM1 65h1v1h-1zM2 65h1v1h-1zM3 65h1v1h-1zM15 65h1v1h-1zM30 65h1v1h-1zM70 65h1v1h-1zM21 66h1v1h-1zM30 66h1v1h-1zM33 66h1v1h-1zM38 66h1v1h-1zM41 66h1v1h-1zM43 66h1v1h-1zM61 66h1v1h-1zM66 66h1v1h-1zM13 67h1v1h-1zM18 67h1v1h-1zM37 67h1v1h-1zM38 67h1v1h-1zM52 67h1v1h-1zM54 67h1v1h-1zM60 67h1v1h-1zM24 68h1v1h-1zM27 68h1v1h-1zM35 68h1v1h-1zM47 68h1v1h-1zM49 68h1v1h-1zM58 68h1v1h-1zM2 69h1v1h-1zM9 69h1v1h-1zM21 69h1v1h-1zM26 69h1v1h-1zM33 69h1v1h-1zM41 69h1v1h-1zM50 69h1v1h-1zM58 69h1v1h-1zM59 69h1v1h-1zM64 69h1v1h-1zM65 69h1v1h-1zM69 69h1v1h-1zM71 69h1v1h-1zM25 70h1v1h-1zM27 70h1v1h-1zM28 70h1v1h-1zM30 70h1v1h-1zM35 70h1v1h-1zM36 70h1v1h-1zM41 70h1v1h-1zM43 70h1v1h-1zM44 70h1v1h-1zM52 70h1v1h-1zM1 71h1v1h-1zM10 71h1v1h-1zM13 71h1v1h-1zM40 71h1v1h-1zM41 71h1v1h-1zM42 71h1v1h-1zM44 71h1v1h-1zM66 71h1v1h-1z"/>
<path fill="#8aa08a" d="M0 0h1v1h-1zM9 0h1v1h-1zM44 1h1v1h-1zM65 1h1v1h-1zM4 2h1v1h-1zM14 2h1v1h-1zM22 2h1v1h-1zM25 2h1v1h-1zM46 2h1v1h-1zM48 2h1v1h-1zM50 2h1v1h-1zM55 2h1v1h-1zM58 2h1v1h-1zM19 3h1v1h-1zM34 3h1v1h-1zM55 3h1v1h-1zM0 4h1v1h-1zM25 4h1v1h-1zM53 4h1v1h-1zM62 4h1v1h-1zM0 5h1v1h-1zM19 5h1v1h-1zM23 5h1v1h-1zM35 5h1v1h-1zM37 5h1v1h-1zM55 5h1v1h-1zM58 5h1v1h-1zM67 5h1v1h-1zM39 6h1v1h-1zM60 6h1v1h-1zM33 7h1v1h-1zM65 7h1v1h-1zM70 7h1v1h-1zM12 9h1v1h-1zM51 9h1v1h-1zM68 9h1v1h-1zM10 10h1v1h-1zM13 10h1v1h-1zM37 10h1v1h-1zM46 10h1v1h-1zM66 10h1v1h-1zM37 11h1v1h-1zM1 12h1v1h-1zM2 12h1v1h-1zM24 12h1v1h-1zM54 12h1v1h-1zM10 13h1v1h-1zM47 13h1v1h-1zM49 13h1v1h-1zM7 14h1v1h-1zM11 14h1v1h-1zM31 14h1v1h-1zM32 14h1v1h-1zM46 14h1v1h-1zM56 14h1v1h-1zM57 14h1v1h-1zM63 14h1v1h-1zM69 14h1v1h-1zM41 15h1v1h-1zM12 16h1v1h-1zM24 16h1v1h-1zM31 16h1v1h-1zM56 16h1v1h-1zM58 16h1v1h-1zM62 16h1v1h-1zM18 17h1v1h-1zM58 17h1v1h-1zM59 17h1v1h-1zM37 18h1v1h-1zM50 18h1v1h-1zM52 18h1v1h-1zM21 19h1v1h-1zM41 19h1v1h-1zM43 19h1v1h-1zM57 19h1v1h-1zM12 20h1v1h-1zM8 21h1v1h-1zM20 21h1v1h-1zM32 21h1v1h-1zM47 21h1v1h-1zM52 21h1v1h-1zM70 21h1v1h-1zM8 22h1v1h-1zM17 22h1v1h-1zM30 22h1v1h-1zM48 22h1v1h-1zM67 22h1v1h-1zM68 22h1v1h-1zM2 23h1v1h-1zM15 23h1v1h-1zM31 23h1v1h-1zM5 24h1v1h-1zM33 24h1v1h-1zM62 24h1v1h-1zM33 25h1v1h-1zM46 25h1v1h-1zM69 25h1v1h-1zM11 26h1v1h-1zM14 26h1v1h-1zM21 26h1v1h-1zM49 26h1v1h-1zM68 26h1v1h-1zM69 26h1v1h-1zM6 27h1v1h-1zM24 27h1v1h-1zM25 27h1v1h-1zM56 27h1v1h-1zM70 27h1v1h-1zM27 29h1v1h-1zM49 29h1v1h-1zM60 29h1v1h-1zM6 30h1v1h-1zM19 30h1v1h-1zM22 30h1v1h-1zM27 30h1v1h-1zM32 30h1v1h-1zM57 30h1v1h-1zM65 30h1v1h-1zM0 31h1v1h-1zM32 31h1v1h-1zM37 31h1v1h-1zM41 32h1v1h-1zM23 33h1v1h-1zM25 33h1v1h-1zM28 33h1v1h-1zM47 33h1v1h-1zM52 33h1v1h-1zM67 33h1v1h-1zM2 34h1v1h-1zM48 34h1v1h-1zM50 34h1v1h-1zM10 35h1v1h-1zM46 35h1v1h-1zM54 35h1v1h-1zM17 36h1v1h-1zM31 36h1v1h-1zM12 37h1v1h-1zM23 37h1v1h-1zM22 38h1v1h-1zM31 38h1v1h-1zM34 38h1v1h-1zM35 38h1v1h-1zM56 38h1v1h-1zM30 39h1v1h-1zM28 40h1v1h-1zM53 40h1v1h-1zM64 40h1v1h-1zM1 41h1v1h-1zM25 41h1v1h-1zM30 41h1v1h-1zM30 42h1v1h-1zM34 42h1v1h-1zM43 42h1v1h-1zM55 42h1v1h-1zM59 42h1v1h-1zM21 43h1v1h-1zM47 43h1v1h-1zM51 43h1v1h-1zM55 43h1v1h-1zM3 44h1v1h-1zM66 44h1v1h-1zM3 45h1v1h-1zM5 45h1v1h-1zM22 45h1v1h-1zM38 45h1v1h-1zM42 45h1v1h-1zM50 45h1v1h-1zM54 45h1v1h-1zM58 45h1v1h-1zM49 46h1v1h-1zM53 46h1v1h-1zM70 46h1v1h-1zM8 47h1v1h-1zM28 47h1v1h-1zM35 47h1v1h-1zM43 47h1v1h-1zM48 47h1v1h-1zM59 47h1v1h-1zM7 48h1v1h-1zM27 48h1v1h-1zM34 48h1v1h-1zM37 48h1v1h-1zM39 48h1v1h-1zM59 48h1v1h-1zM24 49h1v1h-1zM35 49h1v1h-1zM3 50h1v1h-1zM36 50h1v1h-1zM59 50h1v1h-1zM71 50h1v1h-1zM5 51h1v1h-1zM7 51h1v1h-1zM14 51h1v1h-1zM58 51h1v1h-1zM62 51h1v1h-1zM11 52h1v1h-1zM61 52h1v1h-1zM0 53h1v1h-1zM37 53h1v1h-1zM66 53h1v1h-1zM23 54h1v1h-1zM25 54h1v1h-1zM52 54h1v1h-1zM54 54h1v1h-1zM59 54h1v1h-1zM39 55h1v1h-1zM44 55h1v1h-1zM68 55h1v1h-1zM6 56h1v1h-1zM68 56h1v1h-1zM18 57h1v1h-1zM34 57h1v1h-1zM18 58h1v1h-1zM26 58h1v1h-1zM56 58h1v1h-1zM60 58h1v1h-1zM18 59h1v1h-1zM23 59h1v1h-1zM46 59h1v1h-1zM4 60h1v1h-1zM37 60h1v1h-1zM41 60h1v1h-1zM10 61h1v1h-1zM34 61h1v1h-1zM61 61h1v1h-1zM0 62h1v1h-1zM7 62h1v1h-1zM40 62h1v1h-1zM48 62h1v1h-1zM0 63h1v1h-1zM11 63h1v1h-1zM14 63h1v1h-1zM26 63h1v1h-1zM58 63h1v1h-1zM61 63h1v1h-1zM1 64h1v1h-1zM11 64h1v1h-1zM28 64h1v1h-1zM34 64h1v1h-1zM43 64h1v1h-1zM64 65h1v1h-1zM13 66h1v1h-1zM32 66h1v1h-1zM51 66h1v1h-1zM7 67h1v1h-1zM8 67h1v1h-1zM14 67h1v1h-1zM68 67h1v1h-1zM48 68h1v1h-1zM56 68h1v1h-1zM57 68h1v1h-1zM16 69h1v1h-1zM29 69h1v1h-1zM42 69h1v1h-1zM54 69h1v1h-1zM5 70h1v1h-1zM31 70h1v1h-1zM47 70h1v1h-1zM57 70h1v1h-1zM62 70h1v1h-1zM66 70h1v1h-1zM67 70h1v1h-1zM16 71h1v1h-1zM59 71h1v1h-1z"/>
</pattern>
<pattern id="spk2" width="56" height="56" patternUnits="userSpaceOnUse">
<path fill="#3f4fb4" d="M4 0h1v1h-1zM7 0h1v1h-1zM10 0h1v1h-1zM17 0h1v1h-1zM24 0h1v1h-1zM29 0h1v1h-1zM37 0h1v1h-1zM40 0h1v1h-1zM43 0h1v1h-1zM45 0h1v1h-1zM49 0h1v1h-1zM50 0h1v1h-1zM52 0h1v1h-1zM53 0h1v1h-1zM3 1h1v1h-1zM8 1h1v1h-1zM15 1h1v1h-1zM20 1h1v1h-1zM25 1h1v1h-1zM33 1h1v1h-1zM40 1h1v1h-1zM42 1h1v1h-1zM44 1h1v1h-1zM6 2h1v1h-1zM12 2h1v1h-1zM13 2h1v1h-1zM22 2h1v1h-1zM25 2h1v1h-1zM36 2h1v1h-1zM37 2h1v1h-1zM41 2h1v1h-1zM44 2h1v1h-1zM54 2h1v1h-1zM5 3h1v1h-1zM11 3h1v1h-1zM16 3h1v1h-1zM25 3h1v1h-1zM30 3h1v1h-1zM34 3h1v1h-1zM38 3h1v1h-1zM42 3h1v1h-1zM48 3h1v1h-1zM54 3h1v1h-1zM55 3h1v1h-1zM14 4h1v1h-1zM15 4h1v1h-1zM17 4h1v1h-1zM22 4h1v1h-1zM33 4h1v1h-1zM10 5h1v1h-1zM17 5h1v1h-1zM21 5h1v1h-1zM22 5h1v1h-1zM24 5h1v1h-1zM27 5h1v1h-1zM44 5h1v1h-1zM46 5h1v1h-1zM7 6h1v1h-1zM11 6h1v1h-1zM25 6h1v1h-1zM34 6h1v1h-1zM46 6h1v1h-1zM52 6h1v1h-1zM54 6h1v1h-1zM3 7h1v1h-1zM23 7h1v1h-1zM30 7h1v1h-1zM32 7h1v1h-1zM37 7h1v1h-1zM39 7h1v1h-1zM50 7h1v1h-1zM53 7h1v1h-1zM54 7h1v1h-1zM4 8h1v1h-1zM8 8h1v1h-1zM18 8h1v1h-1zM26 8h1v1h-1zM33 8h1v1h-1zM42 8h1v1h-1zM50 8h1v1h-1zM52 8h1v1h-1zM53 8h1v1h-1zM24 9h1v1h-1zM28 9h1v1h-1zM38 9h1v1h-1zM41 9h1v1h-1zM46 9h1v1h-1zM12 10h1v1h-1zM17 10h1v1h-1zM22 10h1v1h-1zM28 10h1v1h-1zM31 10h1v1h-1zM33 10h1v1h-1zM53 10h1v1h-1zM11 11h1v1h-1zM12 11h1v1h-1zM24 11h1v1h-1zM29 11h1v1h-1zM35 11h1v1h-1zM37 11h1v1h-1zM53 11h1v1h-1zM7 12h1v1h-1zM9 12h1v1h-1zM10 12h1v1h-1zM12 12h1v1h-1zM16 12h1v1h-1zM27 12h1v1h-1zM29 12h1v1h-1zM40 12h1v1h-1zM53 12h1v1h-1zM21 13h1v1h-1zM24 13h1v1h-1zM35 13h1v1h-1zM36 13h1v1h-1zM37 13h1v1h-1zM40 13h1v1h-1zM51 13h1v1h-1zM52 13h1v1h-1zM3 14h1v1h-1zM4 14h1v1h-1zM7 14h1v1h-1zM10 14h1v1h-1zM24 14h1v1h-1zM26 14h1v1h-1zM41 14h1v1h-1zM53 14h1v1h-1zM2 15h1v1h-1zM12 15h1v1h-1zM13 15h1v1h-1zM14 15h1v1h-1zM24 15h1v1h-1zM25 15h1v1h-1zM34 15h1v1h-1zM38 15h1v1h-1zM39 15h1v1h-1zM43 15h1v1h-1zM49 15h1v1h-1zM1 16h1v1h-1zM5 16h1v1h-1zM7 16h1v1h-1zM8 16h1v1h-1zM9 16h1v1h-1zM13 16h1v1h-1zM21 16h1v1h-1zM22 16h1v1h-1zM26 16h1v1h-1zM30 16h1v1h-1zM32 16h1v1h-1zM33 16h1v1h-1zM40 16h1v1h-1zM44 16h1v1h-1zM53 16h1v1h-1zM0 17h1v1h-1zM8 17h1v1h-1zM22 17h1v1h-1zM24 17h1v1h-1zM35 17h1v1h-1zM43 17h1v1h-1zM7 18h1v1h-1zM18 18h1v1h-1zM27 18h1v1h-1zM31 18h1v1h-1zM34 18h1v1h-1zM43 18h1v1h-1zM44 18h1v1h-1zM46 18h1v1h-1zM53 18h1v1h-1zM19 19h1v1h-1zM25 19h1v1h-1zM45 19h1v1h-1zM1 20h1v1h-1zM5 20h1v1h-1zM15 20h1v1h-1zM17 20h1v1h-1zM22 20h1v1h-1zM35 20h1v1h-1zM37 20h1v1h-1zM0 21h1v1h-1zM10 21h1v1h-1zM30 21h1v1h-1zM31 21h1v1h-1zM37 21h1v1h-1zM44 21h1v1h-1zM46 21h1v1h-1zM51 21h1v1h-1zM52 21h1v1h-1zM18 22h1v1h-1zM22 22h1v1h-1zM27 22h1v1h-1zM32 22h1v1h-1zM44 22h1v1h-1zM48 22h1v1h-1zM49 22h1v1h-1zM2 23h1v1h-1zM3 23h1v1h-1zM4 23h1v1h-1zM33 23h1v1h-1zM50 23h1v1h-1zM55 23h1v1h-1zM5 24h1v1h-1zM6 24h1v1h-1zM30 24h1v1h-1zM39 24h1v1h-1zM50 24h1v1h-1zM5 25h1v1h-1zM8 25h1v1h-1zM11 25h1v1h-1zM16 25h1v1h-1zM24 25h1v1h-1zM27 25h1v1h-1zM30 25h1v1h-1zM36 25h1v1h-1zM47 25h1v1h-1zM1 26h1v1h-1zM9 26h1v1h-1zM15 26h1v1h-1zM31 26h1v1h-1zM50 26h1v1h-1zM29 27h1v1h-1zM32 27h1v1h-1zM36 27h1v1h-1zM41 27h1v1h-1zM0 28h1v1h-1zM13 28h1v1h-1zM39 28h1v1h-1zM45 28h1v1h-1zM7 29h1v1h-1zM8 29h1v1h-1zM17 29h1v1h-1zM18 29h1v1h-1zM23 29h1v1h-1zM41 29h1v1h-1zM44 29h1v1h-1zM45 29h1v1h-1zM47 29h1v1h-1zM49 29h1v1h-1zM1 30h1v1h-1zM4 30h1v1h-1zM8 30h1v1h-1zM12 30h1v1h-1zM23 30h1v1h-1zM25 30h1v1h-1zM31 30h1v1h-1zM49 30h1v1h-1zM1 31h1v1h-1zM17 31h1v1h-1zM40 31h1v1h-1zM43 31h1v1h-1zM51 31h1v1h-1zM0 32h1v1h-1zM7 32h1v1h-1zM20 32h1v1h-1zM23 32h1v1h-1zM24 32h1v1h-1zM33 32h1v1h-1zM41 32h1v1h-1zM42 32h1v1h-1zM47 32h1v1h-1zM53 32h1v1h-1zM54 32h1v1h-1zM2 33h1v1h-1zM10 33h1v1h-1zM29 33h1v1h-1zM34 33h1v1h-1zM53 33h1v1h-1zM6 34h1v1h-1zM18 34h1v1h-1zM23 34h1v1h-1zM50 34h1v1h-1zM52 34h1v1h-1zM54 34h1v1h-1zM6 35h1v1h-1zM13 35h1v1h-1zM16 35h1v1h-1zM23 35h1v1h-1zM29 35h1v1h-1zM32 35h1v1h-1zM4 36h1v1h-1zM5 36h1v1h-1zM9 36h1v1h-1zM11 36h1v1h-1zM12 36h1v1h-1zM17 36h1v1h-1zM24 36h1v1h-1zM26 36h1v1h-1zM28 36h1v1h-1zM40 36h1v1h-1zM43 36h1v1h-1zM46 36h1v1h-1zM52 36h1v1h-1zM7 37h1v1h-1zM11 37h1v1h-1zM26 37h1v1h-1zM40 37h1v1h-1zM43 37h1v1h-1zM6 38h1v1h-1zM11 38h1v1h-1zM13 38h1v1h-1zM22 38h1v1h-1zM24 38h1v1h-1zM39 38h1v1h-1zM49 38h1v1h-1zM7 39h1v1h-1zM38 39h1v1h-1zM41 39h1v1h-1zM48 39h1v1h-1zM50 39h1v1h-1zM51 39h1v1h-1zM52 39h1v1h-1zM53 39h1v1h-1zM3 40h1v1h-1zM8 40h1v1h-1zM16 40h1v1h-1zM20 40h1v1h-1zM29 40h1v1h-1zM36 40h1v1h-1zM43 40h1v1h-1zM51 40h1v1h-1zM1 41h1v1h-1zM5 41h1v1h-1zM9 41h1v1h-1zM18 41h1v1h-1zM25 41h1v1h-1zM29 41h1v1h-1zM46 41h1v1h-1zM49 41h1v1h-1zM54 41h1v1h-1zM7 42h1v1h-1zM11 42h1v1h-1zM17 42h1v1h-1zM26 42h1v1h-1zM31 42h1v1h-1zM34 42h1v1h-1zM43 42h1v1h-1zM55 42h1v1h-1zM1 43h1v1h-1zM4 43h1v1h-1zM9 43h1v1h-1zM17 43h1v1h-1zM43 43h1v1h-1zM44 43h1v1h-1zM47 43h1v1h-1zM52 43h1v1h-1zM53 43h1v1h-1zM12 44h1v1h-1zM14 44h1v1h-1zM15 44h1v1h-1zM26 44h1v1h-1zM33 44h1v1h-1zM34 44h1v1h-1zM35 44h1v1h-1zM36 44h1v1h-1zM46 44h1v1h-1zM53 44h1v1h-1zM54 44h1v1h-1zM4 45h1v1h-1zM12 45h1v1h-1zM17 45h1v1h-1zM19 45h1v1h-1zM31 45h1v1h-1zM40 45h1v1h-1zM41 45h1v1h-1zM44 45h1v1h-1zM47 45h1v1h-1zM0 46h1v1h-1zM3 46h1v1h-1zM7 46h1v1h-1zM8 46h1v1h-1zM32 46h1v1h-1zM10 47h1v1h-1zM32 47h1v1h-1zM43 47h1v1h-1zM45 47h1v1h-1zM47 47h1v1h-1zM55 47h1v1h-1zM0 48h1v1h-1zM3 48h1v1h-1zM17 48h1v1h-1zM26 48h1v1h-1zM28 48h1v1h-1zM32 48h1v1h-1zM33 48h1v1h-1zM34 48h1v1h-1zM43 48h1v1h-1zM52 48h1v1h-1zM54 48h1v1h-1zM6 49h1v1h-1zM38 49h1v1h-1zM51 49h1v1h-1zM8 50h1v1h-1zM29 50h1v1h-1zM33 50h1v1h-1zM34 50h1v1h-1zM38 50h1v1h-1zM40 50h1v1h-1zM46 50h1v1h-1zM0 51h1v1h-1zM10 51h1v1h-1zM18 51h1v1h-1zM29 51h1v1h-1zM33 51h1v1h-1zM35 51h1v1h-1zM38 51h1v1h-1zM46 51h1v1h-1zM1 52h1v1h-1zM4 52h1v1h-1zM5 52h1v1h-1zM6 52h1v1h-1zM20 52h1v1h-1zM30 52h1v1h-1zM33 52h1v1h-1zM36 52h1v1h-1zM39 52h1v1h-1zM44 52h1v1h-1zM46 52h1v1h-1zM50 52h1v1h-1zM53 52h1v1h-1zM2 53h1v1h-1zM3 53h1v1h-1zM5 53h1v1h-1zM7 53h1v1h-1zM19 53h1v1h-1zM25 53h1v1h-1zM17 54h1v1h-1zM27 54h1v1h-1zM31 54h1v1h-1zM48 54h1v1h-1zM4 55h1v1h-1zM13 55h1v1h-1zM22 55h1v1h-1zM25 55h1v1h-1zM30 55h1v1h-1zM36 55h1v1h-1zM42 55h1v1h-1zM47 55h1v1h-1zM53 55h1v1h-1z"/>
<path fill="#2b326c" d="M2 0h1v1h-1zM15 0h1v1h-1zM11 1h1v1h-1zM19 2h1v1h-1zM21 2h1v1h-1zM55 4h1v1h-1zM25 5h1v1h-1zM34 5h1v1h-1zM53 5h1v1h-1zM12 6h1v1h-1zM5 7h1v1h-1zM14 7h1v1h-1zM8 9h1v1h-1zM32 9h1v1h-1zM30 10h1v1h-1zM55 10h1v1h-1zM6 11h1v1h-1zM23 11h1v1h-1zM31 11h1v1h-1zM45 11h1v1h-1zM39 12h1v1h-1zM55 12h1v1h-1zM19 13h1v1h-1zM34 13h1v1h-1zM12 14h1v1h-1zM19 17h1v1h-1zM40 17h1v1h-1zM11 18h1v1h-1zM15 18h1v1h-1zM21 18h1v1h-1zM3 21h1v1h-1zM6 22h1v1h-1zM24 22h1v1h-1zM39 22h1v1h-1zM36 23h1v1h-1zM20 24h1v1h-1zM47 24h1v1h-1zM54 24h1v1h-1zM49 26h1v1h-1zM24 28h1v1h-1zM36 28h1v1h-1zM40 28h1v1h-1zM0 29h1v1h-1zM40 30h1v1h-1zM43 30h1v1h-1zM2 31h1v1h-1zM13 33h1v1h-1zM49 34h1v1h-1zM24 35h1v1h-1zM38 36h1v1h-1zM22 37h1v1h-1zM50 37h1v1h-1zM46 38h1v1h-1zM14 39h1v1h-1zM12 41h1v1h-1zM15 41h1v1h-1zM31 41h1v1h-1zM35 42h1v1h-1zM35 43h1v1h-1zM36 43h1v1h-1zM55 43h1v1h-1zM3 44h1v1h-1zM5 44h1v1h-1zM42 44h1v1h-1zM38 45h1v1h-1zM43 45h1v1h-1zM35 46h1v1h-1zM7 47h1v1h-1zM24 47h1v1h-1zM5 48h1v1h-1zM37 48h1v1h-1zM7 49h1v1h-1zM44 49h1v1h-1zM12 50h1v1h-1zM50 51h1v1h-1zM45 52h1v1h-1zM54 52h1v1h-1zM8 53h1v1h-1zM14 53h1v1h-1zM19 54h1v1h-1zM34 54h1v1h-1z"/>
<path fill="#8c91b6" d="M31 0h1v1h-1zM34 0h1v1h-1zM48 0h1v1h-1zM5 1h1v1h-1zM37 1h1v1h-1zM3 2h1v1h-1zM8 2h1v1h-1zM14 2h1v1h-1zM31 2h1v1h-1zM39 2h1v1h-1zM45 2h1v1h-1zM49 2h1v1h-1zM31 3h1v1h-1zM33 3h1v1h-1zM52 3h1v1h-1zM11 4h1v1h-1zM41 4h1v1h-1zM47 4h1v1h-1zM50 4h1v1h-1zM52 4h1v1h-1zM7 5h1v1h-1zM26 5h1v1h-1zM40 5h1v1h-1zM8 6h1v1h-1zM13 6h1v1h-1zM16 6h1v1h-1zM17 6h1v1h-1zM39 6h1v1h-1zM45 6h1v1h-1zM49 6h1v1h-1zM4 7h1v1h-1zM7 7h1v1h-1zM20 7h1v1h-1zM31 7h1v1h-1zM36 7h1v1h-1zM42 7h1v1h-1zM52 7h1v1h-1zM37 8h1v1h-1zM49 8h1v1h-1zM55 8h1v1h-1zM4 9h1v1h-1zM11 9h1v1h-1zM45 9h1v1h-1zM54 9h1v1h-1zM18 10h1v1h-1zM52 10h1v1h-1zM27 11h1v1h-1zM34 11h1v1h-1zM5 12h1v1h-1zM18 12h1v1h-1zM24 12h1v1h-1zM26 12h1v1h-1zM28 12h1v1h-1zM31 12h1v1h-1zM48 12h1v1h-1zM54 12h1v1h-1zM7 13h1v1h-1zM11 13h1v1h-1zM29 13h1v1h-1zM48 13h1v1h-1zM2 14h1v1h-1zM13 14h1v1h-1zM25 14h1v1h-1zM52 14h1v1h-1zM1 15h1v1h-1zM11 15h1v1h-1zM40 15h1v1h-1zM41 15h1v1h-1zM11 16h1v1h-1zM15 16h1v1h-1zM27 16h1v1h-1zM47 16h1v1h-1zM50 16h1v1h-1zM12 17h1v1h-1zM30 17h1v1h-1zM3 18h1v1h-1zM20 18h1v1h-1zM26 18h1v1h-1zM7 20h1v1h-1zM8 20h1v1h-1zM41 20h1v1h-1zM32 21h1v1h-1zM47 21h1v1h-1zM15 22h1v1h-1zM31 22h1v1h-1zM25 23h1v1h-1zM2 24h1v1h-1zM9 24h1v1h-1zM45 24h1v1h-1zM44 25h1v1h-1zM50 25h1v1h-1zM22 26h1v1h-1zM23 26h1v1h-1zM28 26h1v1h-1zM35 26h1v1h-1zM15 27h1v1h-1zM19 27h1v1h-1zM23 27h1v1h-1zM4 28h1v1h-1zM25 28h1v1h-1zM27 28h1v1h-1zM34 28h1v1h-1zM42 28h1v1h-1zM51 28h1v1h-1zM16 29h1v1h-1zM50 29h1v1h-1zM28 30h1v1h-1zM23 31h1v1h-1zM33 31h1v1h-1zM54 31h1v1h-1zM13 32h1v1h-1zM17 32h1v1h-1zM49 32h1v1h-1zM52 32h1v1h-1zM12 33h1v1h-1zM9 34h1v1h-1zM26 34h1v1h-1zM29 34h1v1h-1zM32 34h1v1h-1zM37 34h1v1h-1zM40 34h1v1h-1zM4 35h1v1h-1zM42 35h1v1h-1zM50 35h1v1h-1zM1 36h1v1h-1zM3 36h1v1h-1zM7 36h1v1h-1zM37 36h1v1h-1zM36 37h1v1h-1zM45 37h1v1h-1zM53 37h1v1h-1zM7 38h1v1h-1zM14 38h1v1h-1zM12 39h1v1h-1zM15 39h1v1h-1zM19 39h1v1h-1zM49 39h1v1h-1zM0 40h1v1h-1zM4 40h1v1h-1zM13 40h1v1h-1zM17 40h1v1h-1zM18 40h1v1h-1zM28 40h1v1h-1zM37 40h1v1h-1zM47 40h1v1h-1zM21 41h1v1h-1zM36 41h1v1h-1zM1 42h1v1h-1zM24 42h1v1h-1zM3 43h1v1h-1zM22 43h1v1h-1zM25 44h1v1h-1zM40 44h1v1h-1zM50 44h1v1h-1zM28 45h1v1h-1zM50 45h1v1h-1zM55 45h1v1h-1zM12 46h1v1h-1zM16 46h1v1h-1zM18 46h1v1h-1zM25 46h1v1h-1zM38 46h1v1h-1zM47 46h1v1h-1zM53 46h1v1h-1zM5 47h1v1h-1zM31 47h1v1h-1zM10 48h1v1h-1zM13 48h1v1h-1zM29 48h1v1h-1zM50 48h1v1h-1zM2 49h1v1h-1zM20 49h1v1h-1zM28 49h1v1h-1zM52 49h1v1h-1zM4 50h1v1h-1zM9 50h1v1h-1zM15 50h1v1h-1zM19 50h1v1h-1zM53 50h1v1h-1zM3 51h1v1h-1zM23 52h1v1h-1zM25 52h1v1h-1zM48 52h1v1h-1zM49 52h1v1h-1zM51 52h1v1h-1zM55 52h1v1h-1zM1 53h1v1h-1zM4 53h1v1h-1zM12 53h1v1h-1zM37 53h1v1h-1zM54 53h1v1h-1zM2 54h1v1h-1zM4 54h1v1h-1zM39 54h1v1h-1zM8 55h1v1h-1zM34 55h1v1h-1zM50 55h1v1h-1z"/>
<path fill="#c2c5cc" d="M16 0h1v1h-1zM30 0h1v1h-1zM32 0h1v1h-1zM12 1h1v1h-1zM18 1h1v1h-1zM49 1h1v1h-1zM52 1h1v1h-1zM5 2h1v1h-1zM43 2h1v1h-1zM20 3h1v1h-1zM50 3h1v1h-1zM53 3h1v1h-1zM8 4h1v1h-1zM9 4h1v1h-1zM18 4h1v1h-1zM21 4h1v1h-1zM23 4h1v1h-1zM35 4h1v1h-1zM42 4h1v1h-1zM19 5h1v1h-1zM37 5h1v1h-1zM52 5h1v1h-1zM0 6h1v1h-1zM51 6h1v1h-1zM18 7h1v1h-1zM26 7h1v1h-1zM41 7h1v1h-1zM22 8h1v1h-1zM30 8h1v1h-1zM31 8h1v1h-1zM2 9h1v1h-1zM39 9h1v1h-1zM8 10h1v1h-1zM25 10h1v1h-1zM36 10h1v1h-1zM38 10h1v1h-1zM46 10h1v1h-1zM47 10h1v1h-1zM49 10h1v1h-1zM16 11h1v1h-1zM21 11h1v1h-1zM26 11h1v1h-1zM30 11h1v1h-1zM43 11h1v1h-1zM47 11h1v1h-1zM4 12h1v1h-1zM8 12h1v1h-1zM33 12h1v1h-1zM37 12h1v1h-1zM22 13h1v1h-1zM25 13h1v1h-1zM53 13h1v1h-1zM54 13h1v1h-1zM55 13h1v1h-1zM42 14h1v1h-1zM30 15h1v1h-1zM32 15h1v1h-1zM51 15h1v1h-1zM23 16h1v1h-1zM31 16h1v1h-1zM37 16h1v1h-1zM21 17h1v1h-1zM29 17h1v1h-1zM16 18h1v1h-1zM23 18h1v1h-1zM49 18h1v1h-1zM11 19h1v1h-1zM18 19h1v1h-1zM24 19h1v1h-1zM35 19h1v1h-1zM23 20h1v1h-1zM34 20h1v1h-1zM38 20h1v1h-1zM11 21h1v1h-1zM17 21h1v1h-1zM39 21h1v1h-1zM48 21h1v1h-1zM54 21h1v1h-1zM4 22h1v1h-1zM26 22h1v1h-1zM29 22h1v1h-1zM54 22h1v1h-1zM1 23h1v1h-1zM10 23h1v1h-1zM16 23h1v1h-1zM27 23h1v1h-1zM41 23h1v1h-1zM4 24h1v1h-1zM8 24h1v1h-1zM15 24h1v1h-1zM25 24h1v1h-1zM26 24h1v1h-1zM0 25h1v1h-1zM6 25h1v1h-1zM9 25h1v1h-1zM23 25h1v1h-1zM34 25h1v1h-1zM37 25h1v1h-1zM53 25h1v1h-1zM18 26h1v1h-1zM29 26h1v1h-1zM39 26h1v1h-1zM42 26h1v1h-1zM48 26h1v1h-1zM55 26h1v1h-1zM55 27h1v1h-1zM23 28h1v1h-1zM31 28h1v1h-1zM32 28h1v1h-1zM52 28h1v1h-1zM2 29h1v1h-1zM17 30h1v1h-1zM29 30h1v1h-1zM34 30h1v1h-1zM11 31h1v1h-1zM13 31h1v1h-1zM48 31h1v1h-1zM52 31h1v1h-1zM53 31h1v1h-1zM3 32h1v1h-1zM9 32h1v1h-1zM18 32h1v1h-1zM44 32h1v1h-1zM6 33h1v1h-1zM11 33h1v1h-1zM11 34h1v1h-1zM12 34h1v1h-1zM13 34h1v1h-1zM14 34h1v1h-1zM16 34h1v1h-1zM22 34h1v1h-1zM7 35h1v1h-1zM19 35h1v1h-1zM20 35h1v1h-1zM21 35h1v1h-1zM33 35h1v1h-1zM38 35h1v1h-1zM54 35h1v1h-1zM19 36h1v1h-1zM32 36h1v1h-1zM49 36h1v1h-1zM8 37h1v1h-1zM9 37h1v1h-1zM27 37h1v1h-1zM28 37h1v1h-1zM46 37h1v1h-1zM31 38h1v1h-1zM51 38h1v1h-1zM54 38h1v1h-1zM33 39h1v1h-1zM47 39h1v1h-1zM14 40h1v1h-1zM31 40h1v1h-1zM38 40h1v1h-1zM19 41h1v1h-1zM41 41h1v1h-1zM42 41h1v1h-1zM19 42h1v1h-1zM20 42h1v1h-1zM10 43h1v1h-1zM10 44h1v1h-1zM51 44h1v1h-1zM45 45h1v1h-1zM51 45h1v1h-1zM4 46h1v1h-1zM24 46h1v1h-1zM42 46h1v1h-1zM45 46h1v1h-1zM13 47h1v1h-1zM15 47h1v1h-1zM17 47h1v1h-1zM26 47h1v1h-1zM30 47h1v1h-1zM35 47h1v1h-1zM54 47h1v1h-1zM6 48h1v1h-1zM15 48h1v1h-1zM18 48h1v1h-1zM19 48h1v1h-1zM10 49h1v1h-1zM11 49h1v1h-1zM12 49h1v1h-1zM14 49h1v1h-1zM21 49h1v1h-1zM24 49h1v1h-1zM55 49h1v1h-1zM1 50h1v1h-1zM14 50h1v1h-1zM47 50h1v1h-1zM52 50h1v1h-1zM1 51h1v1h-1zM43 51h1v1h-1zM44 51h1v1h-1zM54 51h1v1h-1zM8 52h1v1h-1zM11 52h1v1h-1zM27 52h1v1h-1zM37 52h1v1h-1zM28 53h1v1h-1zM39 53h1v1h-1zM45 53h1v1h-1zM0 54h1v1h-1zM16 54h1v1h-1zM24 54h1v1h-1zM41 54h1v1h-1zM50 54h1v1h-1zM53 54h1v1h-1zM24 55h1v1h-1zM41 55h1v1h-1zM43 55h1v1h-1zM52 55h1v1h-1zM54 55h1v1h-1z"/>
<path fill="#8aa08a" d="M25 0h1v1h-1zM8 3h1v1h-1zM24 4h1v1h-1zM53 6h1v1h-1zM51 8h1v1h-1zM27 10h1v1h-1zM44 14h1v1h-1zM23 15h1v1h-1zM35 15h1v1h-1zM40 18h1v1h-1zM19 20h1v1h-1zM5 21h1v1h-1zM28 21h1v1h-1zM33 21h1v1h-1zM40 21h1v1h-1zM40 23h1v1h-1zM11 26h1v1h-1zM17 27h1v1h-1zM18 27h1v1h-1zM28 27h1v1h-1zM17 28h1v1h-1zM26 28h1v1h-1zM54 30h1v1h-1zM7 31h1v1h-1zM26 31h1v1h-1zM49 31h1v1h-1zM31 32h1v1h-1zM40 32h1v1h-1zM9 33h1v1h-1zM28 34h1v1h-1zM33 34h1v1h-1zM25 35h1v1h-1zM30 35h1v1h-1zM6 36h1v1h-1zM51 36h1v1h-1zM23 37h1v1h-1zM39 37h1v1h-1zM5 38h1v1h-1zM54 40h1v1h-1zM16 41h1v1h-1zM26 41h1v1h-1zM53 41h1v1h-1zM55 41h1v1h-1zM23 42h1v1h-1zM25 42h1v1h-1zM1 45h1v1h-1zM49 45h1v1h-1zM31 46h1v1h-1zM20 47h1v1h-1zM37 47h1v1h-1zM11 48h1v1h-1zM34 49h1v1h-1zM6 51h1v1h-1zM16 52h1v1h-1zM18 52h1v1h-1zM42 52h1v1h-1zM53 53h1v1h-1zM14 54h1v1h-1zM36 54h1v1h-1zM40 55h1v1h-1z"/>
</pattern>
<linearGradient id="fadeTop" gradientUnits="userSpaceOnUse" x1="0" y1="24" x2="0" y2="268">
<stop offset="0" stop-color="#fff" stop-opacity="0"/><stop offset="0.04" stop-color="#fff" stop-opacity="0.15"/><stop offset="0.16" stop-color="#fff" stop-opacity="0.6"/><stop offset="0.3" stop-color="#fff" stop-opacity="1"/><stop offset="0.93" stop-color="#fff" stop-opacity="1"/><stop offset="1" stop-color="#fff" stop-opacity="0.55"/>
</linearGradient>
<mask id="mA" maskUnits="userSpaceOnUse" x="70" y="20" width="90" height="255"><rect x="70" y="20" width="90" height="255" fill="url(#fadeTop)"/></mask>
</defs>
<rect width="480" height="550" fill="#fff"/>

<g id="panelA">
<rect x="9" y="5.8" width="158.6" height="283.9" fill="url(#gA)"/>
<g filter="url(#blA)"><polygon points="105,30 122,26.5 141,21.8 153,22.6 128,268 77,259" fill="#a2a4ad"/><polygon points="105,30 122,26.5 141,21.8 153,22.6 128,268 77,259" fill="url(#spk2)"/><polygon points="105,30 122,26.5 141,21.8 153,22.6 128,268 77,259" fill="url(#spk)" mask="url(#mA)"/></g>
<polygon points="141,21.8 153,22.6 128,268 117,266" fill="#c9ccd6" opacity="0.22"/>
<polygon points="105,30 108.5,29.6 80.3,259.6 77,259" fill="#b2b4ba" opacity="0.7"/>
<polygon points="77,259 128,268 128.3,265.4 77.4,256.4" fill="#b2b4ba" opacity="0.55"/>
<polygon points="153,22.6 128,268 125.6,267.6 150.6,22.5" fill="#b2b4ba" opacity="0.55"/>
<text class="ol" x="9" y="16.5" font-size="9.6" stroke-width="2" textLength="102" lengthAdjust="spacingAndGlyphs">Scene coordinate system</text>
<text class="ol" x="15.3" y="65" font-size="12" font-weight="bold" stroke-width="2.4" textLength="68" lengthAdjust="spacingAndGlyphs">Volume [mm³]</text>
<rect x="14.5" y="70.5" width="10.5" height="179.5" fill="#111"/>
<rect x="15.5" y="71.5" width="8.5" height="9" fill="#ff22bb"/>
<rect x="15.5" y="81.5" width="8.5" height="158" fill="url(#hue)"/>
<rect x="15.5" y="240.5" width="8.5" height="8.5" fill="#a018e0"/>
<text class="ol" x="27.5" y="85.2" font-size="11.5" font-weight="bold" stroke-width="2.4" textLength="21.5" lengthAdjust="spacingAndGlyphs">0.06</text>
<text class="ol" x="27.5" y="117.0" font-size="11.5" font-weight="bold" stroke-width="2.4" textLength="21.5" lengthAdjust="spacingAndGlyphs">0.05</text>
<text class="ol" x="27.5" y="148.8" font-size="11.5" font-weight="bold" stroke-width="2.4" textLength="21.5" lengthAdjust="spacingAndGlyphs">0.04</text>
<text class="ol" x="27.5" y="180.7" font-size="11.5" font-weight="bold" stroke-width="2.4" textLength="21.5" lengthAdjust="spacingAndGlyphs">0.03</text>
<text class="ol" x="27.5" y="212.5" font-size="11.5" font-weight="bold" stroke-width="2.4" textLength="21.5" lengthAdjust="spacingAndGlyphs">0.01</text>
<text class="ol" x="27.5" y="244.3" font-size="11.5" font-weight="bold" stroke-width="2.4" textLength="21.5" lengthAdjust="spacingAndGlyphs">0.00</text>
<path d="M24.2 272.6L23.3 285" stroke="#1030e0" stroke-width="1.5" fill="none"/>
<path d="M24.2 271.6l1.1 2.6h-2.2z" fill="#1030e0"/>
<path d="M22.6 285.4H32" stroke="#c81818" stroke-width="1.4" fill="none"/>
<path d="M27 286.4L33 284" stroke="#1c7a30" stroke-width="1.3" fill="none"/>
<path d="M34.8 283.2l-2.8 0.2l1.2 2.2z" fill="#1c7a30"/>
<text x="24.2" y="270.1" font-size="8.6" font-weight="bold" fill="#1030e0">z</text>
<text x="36" y="285.8" font-size="8.2" font-weight="bold" fill="#d02020">x</text>
<text class="ser" x="122.1" y="28.3" font-size="27.8" fill="#0a0a0a" stroke="#0a0a0a" stroke-width="0.35" textLength="17.5" lengthAdjust="spacingAndGlyphs">A</text>
</g>
<g id="panelB">
<rect x="168.4" y="25" width="300.6" height="230" fill="#ececec"/>
<rect x="168.4" y="25" width="300.6" height="230" fill="#fff" filter="url(#nB)"/>
<rect x="168.4" y="25" width="12.3" height="230" fill="#0a0a0a"/>
<rect x="168.4" y="254" width="300.6" height="1.1" fill="#333"/>
<clipPath id="cB"><rect x="169" y="25" width="300" height="230"/></clipPath>
<g clip-path="url(#cB)">
<ellipse cx="207.7" cy="34.8" rx="1" ry="1" fill="#1133e0"/>
<ellipse cx="194.5" cy="49" rx="1" ry="1" fill="#1133e0"/>
<ellipse cx="254.4" cy="45.9" rx="1" ry="1" fill="#1133e0"/>
<ellipse cx="260.4" cy="48.6" rx="1.5" ry="1.5" fill="#1133e0"/>
<ellipse cx="188.7" cy="59.5" rx="1.5" ry="1.5" fill="#1133e0"/>
<ellipse cx="222.3" cy="73.1" rx="1.2" ry="1.2" fill="#1133e0"/>
<ellipse cx="192.4" cy="93.6" rx="1.2" ry="1.2" fill="#1133e0"/>
<ellipse cx="209.8" cy="102.8" rx="2" ry="2" fill="#1133e0"/>
<ellipse cx="215.7" cy="110.8" rx="1.5" ry="1.5" fill="#1133e0"/>
<ellipse cx="225.9" cy="122.3" rx="1.7" ry="1.7" fill="#1133e0"/>
<ellipse cx="257.5" cy="127.9" rx="1" ry="1" fill="#1133e0"/>
<ellipse cx="212.5" cy="134.6" rx="1.5" ry="1.5" fill="#1133e0"/>
<ellipse cx="238" cy="34.8" rx="0.8" ry="0.8" fill="#1133e0"/>
<ellipse cx="252.7" cy="63.7" rx="0.7" ry="0.7" fill="#1133e0"/>
<ellipse cx="220.3" cy="117" rx="0.6" ry="0.6" fill="#2277e0"/>
<ellipse cx="281.6" cy="27.1" rx="1.3" ry="1.3" fill="#1133e0"/>
<ellipse cx="329.7" cy="26.7" rx="1.8" ry="1.8" fill="#1133e0"/>
<ellipse cx="272.6" cy="35.9" rx="1.6" ry="1.6" fill="#1133e0"/>
<ellipse cx="295.8" cy="34" rx="2" ry="2" fill="#1133e0"/>
<ellipse cx="311.3" cy="38.2" rx="1.8" ry="1.8" fill="#1133e0"/>
<ellipse cx="315.4" cy="35" rx="1.2" ry="1.2" fill="#1133e0"/>
<ellipse cx="327.6" cy="36.5" rx="0.6" ry="0.6" fill="#1133e0"/>
<ellipse cx="310.2" cy="47.4" rx="0.7" ry="0.7" fill="#2277e0"/>
<ellipse cx="280.5" cy="53.2" rx="1.3" ry="1.3" fill="#1133e0"/>
<ellipse cx="293.1" cy="51.4" rx="1.2" ry="1.2" fill="#1133e0"/>
<ellipse cx="331.1" cy="49.1" rx="0.7" ry="0.7" fill="#2277e0"/>
<ellipse cx="340.1" cy="56.4" rx="1.2" ry="1.2" fill="#1133e0"/>
<ellipse cx="352.9" cy="52.2" rx="2" ry="2" fill="#1133e0"/>
<ellipse cx="365" cy="59.5" rx="1.5" ry="1.5" fill="#1133e0"/>
<ellipse cx="312.5" cy="62.2" rx="1.8" ry="1.8" fill="#1133e0"/>
<ellipse cx="317.5" cy="66.8" rx="1.2" ry="1.2" fill="#1133e0"/>
<ellipse cx="285.7" cy="69.1" rx="2.5" ry="2.5" fill="#1133e0"/>
<ellipse cx="273.6" cy="80.6" rx="1.6" ry="2.2" fill="#1133e0"/>
<ellipse cx="283.6" cy="81.1" rx="1.2" ry="1.2" fill="#1133e0"/>
<ellipse cx="293.3" cy="79.8" rx="1.4" ry="1.4" fill="#1133e0"/>
<ellipse cx="298.9" cy="82.5" rx="1.8" ry="1.8" fill="#1133e0"/>
<ellipse cx="305.2" cy="81.1" rx="1.2" ry="1.2" fill="#1133e0"/>
<ellipse cx="330.1" cy="83.6" rx="2.2" ry="2.2" fill="#2277e0"/>
<ellipse cx="270.7" cy="90.9" rx="2.2" ry="2.2" fill="#1133e0"/>
<ellipse cx="275.3" cy="89.9" rx="1" ry="1" fill="#1133e0"/>
<ellipse cx="334.5" cy="90.3" rx="0.8" ry="0.8" fill="#1133e0"/>
<ellipse cx="283.6" cy="95.7" rx="1.2" ry="1.2" fill="#1133e0"/>
<ellipse cx="325.7" cy="96.5" rx="1.8" ry="1.8" fill="#1133e0"/>
<ellipse cx="286.8" cy="100.7" rx="1.2" ry="1.2" fill="#1133e0"/>
<ellipse cx="333.2" cy="103.5" rx="2.2" ry="2.2" fill="#1133e0"/>
<ellipse cx="356.7" cy="101.6" rx="1.5" ry="1.5" fill="#1133e0"/>
<ellipse cx="281.6" cy="109.1" rx="1" ry="1" fill="#1133e0"/>
<ellipse cx="337" cy="115.6" rx="1.3" ry="1.3" fill="#1133e0"/>
<ellipse cx="353.1" cy="120.6" rx="1.2" ry="1.2" fill="#1133e0"/>
<ellipse cx="312.5" cy="123.7" rx="0.8" ry="0.8" fill="#1133e0"/>
<ellipse cx="281.6" cy="126.9" rx="1.3" ry="1.3" fill="#1133e0"/>
<ellipse cx="325.9" cy="127.3" rx="1.5" ry="1.5" fill="#1133e0"/>
<ellipse cx="301" cy="128.1" rx="1" ry="1" fill="#1133e0"/>
<ellipse cx="274.2" cy="130.2" rx="1" ry="1" fill="#1133e0"/>
<ellipse cx="282.6" cy="131.7" rx="1.2" ry="1.2" fill="#2277e0"/>
<ellipse cx="320.3" cy="87.8" rx="0.5" ry="0.5" fill="#2277e0"/>
<ellipse cx="382" cy="25.6" rx="2" ry="2" fill="#1133e0"/>
<ellipse cx="418.2" cy="25.6" rx="1" ry="1" fill="#1133e0"/>
<ellipse cx="411.3" cy="31.9" rx="1.4" ry="1.4" fill="#1133e0"/>
<ellipse cx="386.2" cy="34.8" rx="2.8" ry="2.4" fill="#1a90c8"/>
<ellipse cx="381.6" cy="42.2" rx="0.9" ry="1.8" fill="#1133e0"/>
<ellipse cx="436.2" cy="41.1" rx="1.2" ry="1.2" fill="#1133e0"/>
<ellipse cx="397.5" cy="54.3" rx="1.7" ry="1.7" fill="#1133e0"/>
<ellipse cx="432.8" cy="58.5" rx="1.8" ry="1" fill="#1133e0"/>
<ellipse cx="446.4" cy="56.4" rx="0.8" ry="0.8" fill="#1133e0"/>
<ellipse cx="398.3" cy="62.2" rx="1.9" ry="1.9" fill="#1133e0"/>
<ellipse cx="415.2" cy="66" rx="1.4" ry="1.4" fill="#1133e0"/>
<ellipse cx="402.1" cy="71" rx="2" ry="2" fill="#1133e0"/>
<ellipse cx="408.7" cy="74.8" rx="0.8" ry="0.8" fill="#1133e0"/>
<ellipse cx="415.4" cy="75.6" rx="1.6" ry="1.6" fill="#1133e0"/>
<ellipse cx="450.6" cy="70.4" rx="1.3" ry="1.3" fill="#1133e0"/>
<ellipse cx="452.7" cy="75.8" rx="0.8" ry="0.8" fill="#1133e0"/>
<ellipse cx="437.8" cy="81.1" rx="2.2" ry="2.2" fill="#2277e0"/>
<ellipse cx="383.6" cy="98.2" rx="1.6" ry="1.6" fill="#1133e0"/>
<ellipse cx="420.3" cy="100.3" rx="1.5" ry="1.5" fill="#1133e0"/>
<ellipse cx="376.7" cy="104.5" rx="0.6" ry="0.6" fill="#1133e0"/>
<ellipse cx="398.9" cy="110.4" rx="1.6" ry="1.6" fill="#1133e0"/>
<ellipse cx="467.3" cy="112.2" rx="1.5" ry="1.5" fill="#1133e0"/>
<ellipse cx="387.8" cy="114.3" rx="1.3" ry="1.3" fill="#1133e0"/>
<ellipse cx="398.5" cy="121.2" rx="1.3" ry="1.3" fill="#1133e0"/>
<ellipse cx="392" cy="134.8" rx="2" ry="2" fill="#1133e0"/>
<ellipse cx="412.3" cy="138" rx="1.5" ry="1.5" fill="#1133e0"/>
<ellipse cx="466.9" cy="49" rx="1" ry="1" fill="#1133e0"/>
<ellipse cx="464.4" cy="32.5" rx="1" ry="1" fill="#1133e0"/>
<ellipse cx="210.2" cy="142.1" rx="1.4" ry="1.4" fill="#1133e0"/>
<ellipse cx="224.9" cy="145.2" rx="1.6" ry="1.6" fill="#1133e0"/>
<ellipse cx="231.8" cy="148" rx="1.2" ry="1.2" fill="#1133e0"/>
<ellipse cx="243.7" cy="142.1" rx="1.5" ry="2.5" fill="#1133e0"/>
<ellipse cx="197.5" cy="148.8" rx="2" ry="2" fill="#22dd66"/>
<ellipse cx="215.4" cy="150" rx="0.5" ry="0.5" fill="#1133e0"/>
<ellipse cx="246.4" cy="152.6" rx="0.6" ry="0.6" fill="#1133e0"/>
<ellipse cx="265" cy="156.7" rx="2" ry="2" fill="#1133e0"/>
<ellipse cx="238.7" cy="159.2" rx="1.5" ry="1.5" fill="#1133e0"/>
<ellipse cx="222.8" cy="178.3" rx="2.2" ry="2.2" fill="#1133e0"/>
<ellipse cx="249.1" cy="178.7" rx="1" ry="1" fill="#1133e0"/>
<ellipse cx="228.6" cy="184.4" rx="1" ry="1" fill="#1133e0"/>
<ellipse cx="240.8" cy="185" rx="1.2" ry="1.2" fill="#1133e0"/>
<ellipse cx="189.3" cy="189.6" rx="1.3" ry="1.3" fill="#1133e0"/>
<ellipse cx="222.3" cy="188.5" rx="0.5" ry="0.5" fill="#1133e0"/>
<ellipse cx="227.2" cy="191.3" rx="1.2" ry="1.2" fill="#1133e0"/>
<ellipse cx="210.2" cy="194" rx="2" ry="1.5" fill="#1133e0"/>
<ellipse cx="213.6" cy="196.5" rx="1" ry="1" fill="#1133e0"/>
<ellipse cx="216.7" cy="197.7" rx="1" ry="1" fill="#1133e0"/>
<ellipse cx="248.5" cy="193.8" rx="1.8" ry="1.8" fill="#1133e0"/>
<ellipse cx="250" cy="198.2" rx="2" ry="2" fill="#1133e0"/>
<ellipse cx="235.9" cy="203.8" rx="0.7" ry="0.7" fill="#1133e0"/>
<ellipse cx="186.8" cy="218.9" rx="3" ry="2" fill="#1133e0"/>
<ellipse cx="219.2" cy="228.1" rx="1.2" ry="1.2" fill="#1133e0"/>
<ellipse cx="192.4" cy="235.6" rx="1" ry="1" fill="#1133e0"/>
<ellipse cx="209.2" cy="236.9" rx="1.8" ry="1.8" fill="#1133e0"/>
<ellipse cx="186.8" cy="240" rx="1.5" ry="0.9" fill="#1fb5b0"/>
<ellipse cx="263.6" cy="234.8" rx="0.8" ry="0.8" fill="#1133e0"/>
<ellipse cx="267.7" cy="242.5" rx="1.8" ry="1.8" fill="#1133e0"/>
<ellipse cx="242.6" cy="247.1" rx="0.8" ry="0.8" fill="#1133e0"/>
<ellipse cx="234.5" cy="254" rx="1" ry="1" fill="#1133e0"/>
<ellipse cx="293.7" cy="146.3" rx="0.8" ry="0.8" fill="#1133e0"/>
<ellipse cx="325.1" cy="145.9" rx="1.5" ry="0.9" fill="#1133e0"/>
<ellipse cx="365.7" cy="144.6" rx="2.3" ry="2.3" fill="#2266dd"/>
<ellipse cx="323.2" cy="155.3" rx="1.4" ry="1.4" fill="#1133e0"/>
<ellipse cx="339.1" cy="156.1" rx="1.2" ry="0.7" fill="#1fb5b0"/>
<ellipse cx="329" cy="160.3" rx="1" ry="1" fill="#1133e0"/>
<ellipse cx="311.9" cy="164.1" rx="0.6" ry="0.6" fill="#1133e0"/>
<ellipse cx="288.5" cy="176" rx="1.6" ry="1.6" fill="#2277e0"/>
<ellipse cx="286.4" cy="179.3" rx="0.8" ry="0.8" fill="#2277e0"/>
<ellipse cx="349.8" cy="176.2" rx="1.6" ry="1.6" fill="#1133e0"/>
<ellipse cx="362.7" cy="179.7" rx="1.3" ry="1.8" fill="#1133e0"/>
<ellipse cx="308.7" cy="180.4" rx="0.8" ry="0.8" fill="#1133e0"/>
<ellipse cx="272.8" cy="183.9" rx="1.6" ry="1.6" fill="#1133e0"/>
<ellipse cx="334.5" cy="184.1" rx="1.4" ry="1.4" fill="#1133e0"/>
<ellipse cx="355" cy="187.3" rx="1.8" ry="1.8" fill="#1133e0"/>
<ellipse cx="291.4" cy="189.6" rx="1" ry="1.8" fill="#2277e0"/>
<ellipse cx="317.7" cy="195.6" rx="1.7" ry="1.7" fill="#1133e0"/>
<ellipse cx="337.6" cy="194.6" rx="1.4" ry="1.4" fill="#1133e0"/>
<ellipse cx="363.1" cy="197.5" rx="0.7" ry="0.7" fill="#1133e0"/>
<ellipse cx="303.1" cy="202.8" rx="0.6" ry="0.6" fill="#2277e0"/>
<ellipse cx="350.6" cy="206.1" rx="1.7" ry="1.7" fill="#1133e0"/>
<ellipse cx="363.6" cy="205.5" rx="1" ry="1" fill="#1133e0"/>
<ellipse cx="364.2" cy="212.2" rx="1" ry="1" fill="#2277e0"/>
<ellipse cx="321.5" cy="210.7" rx="2" ry="2" fill="#1133e0"/>
<ellipse cx="304.1" cy="216.6" rx="1.7" ry="2.2" fill="#1133e0"/>
<ellipse cx="311.5" cy="221.6" rx="0.5" ry="0.5" fill="#1133e0"/>
<ellipse cx="335.5" cy="226.8" rx="0.6" ry="0.6" fill="#1133e0"/>
<ellipse cx="300" cy="228.5" rx="0.7" ry="0.7" fill="#1133e0"/>
<ellipse cx="287.8" cy="234.1" rx="1.2" ry="1.2" fill="#1133e0"/>
<ellipse cx="295.6" cy="235.2" rx="0.7" ry="0.7" fill="#1fb5b0"/>
<ellipse cx="349.5" cy="235.8" rx="1.8" ry="1.8" fill="#2277e0"/>
<ellipse cx="359.4" cy="236.9" rx="1" ry="1" fill="#1133e0"/>
<ellipse cx="270" cy="242.5" rx="1.2" ry="1.2" fill="#1133e0"/>
<ellipse cx="377.4" cy="145.6" rx="0.6" ry="0.6" fill="#1133e0"/>
<ellipse cx="399.3" cy="146.7" rx="1.5" ry="1.5" fill="#1133e0"/>
<ellipse cx="428" cy="142.7" rx="0.8" ry="1.5" fill="#c07820"/>
<ellipse cx="459.6" cy="155.7" rx="1.5" ry="1.5" fill="#1133e0"/>
<ellipse cx="466.9" cy="162.6" rx="2" ry="2" fill="#2288ee"/>
<ellipse cx="398.7" cy="159.9" rx="0.6" ry="0.6" fill="#1133e0"/>
<ellipse cx="442.2" cy="162.6" rx="0.6" ry="0.6" fill="#1133e0"/>
<ellipse cx="399.3" cy="172.4" rx="1.7" ry="1.7" fill="#1133e0"/>
<ellipse cx="442.8" cy="174.5" rx="1.8" ry="1.8" fill="#1133e0"/>
<ellipse cx="453.7" cy="172" rx="0.9" ry="0.9" fill="#1133e0"/>
<ellipse cx="383.6" cy="185" rx="1.7" ry="1.7" fill="#1133e0"/>
<ellipse cx="389.9" cy="189.2" rx="1.4" ry="1.4" fill="#1133e0"/>
<ellipse cx="438" cy="202.1" rx="1.8" ry="1.8" fill="#1133e0"/>
<ellipse cx="440.5" cy="207.4" rx="0.8" ry="0.8" fill="#1133e0"/>
<ellipse cx="452.3" cy="211.1" rx="2" ry="2.5" fill="#2277ee"/>
<ellipse cx="435.5" cy="213.6" rx="1.2" ry="1.2" fill="#1133e0"/>
<ellipse cx="395.6" cy="213.2" rx="0.8" ry="0.8" fill="#1133e0"/>
<ellipse cx="407.1" cy="216.4" rx="1.8" ry="1.8" fill="#1133e0"/>
<ellipse cx="419.8" cy="223.3" rx="1.2" ry="1.2" fill="#1133e0"/>
<ellipse cx="455.8" cy="232" rx="2" ry="2" fill="#22cc88"/>
<ellipse cx="437" cy="235.2" rx="1.5" ry="1.5" fill="#1133e0"/>
<ellipse cx="372.6" cy="230.4" rx="0.5" ry="0.5" fill="#1133e0"/>
<ellipse cx="418.8" cy="242.5" rx="1.8" ry="1.8" fill="#1133e0"/>
<ellipse cx="412.9" cy="243.1" rx="1" ry="1" fill="#1133e0"/>
<ellipse cx="465.2" cy="249.4" rx="1.8" ry="1.8" fill="#1133e0"/>
<ellipse cx="408.7" cy="251.3" rx="1.3" ry="1.3" fill="#1133e0"/>
<ellipse cx="400.4" cy="254" rx="1" ry="1" fill="#1133e0"/>
<ellipse cx="382.6" cy="245.6" rx="0.5" ry="0.5" fill="#1133e0"/>
</g>
<path d="M355.3 29.4 Q355.4 28.4 357 28.6 L364.5 28.5 Q366.2 28.4 365.7 29.8 Q364 32.6 359.6 33 Q356 32.9 355.3 29.4Z" fill="#20ee20"/>
<ellipse cx="401" cy="95.7" rx="2.4" ry="4" fill="#1fb5b5" transform="rotate(-30 401 95.7)"/>
<ellipse cx="241.8" cy="67.5" rx="2" ry="3.4" fill="#1fb5b0" transform="rotate(-18 241.8 67.5)"/>
<path d="M444 113 Q445 108.5 448.5 108 Q451 106.5 454 107.5 Q456 109 455 111.5 Q456 114 453.5 114.5 Q452 116.5 449 116 Q445 117 444 113Z" fill="#d08a10"/>
<rect x="465.6" y="27.6" width="3.3" height="3.8" fill="#777"/><rect x="466.5" y="28.5" width="1.5" height="2" fill="#aaa"/>
<text class="ol" x="171.5" y="33.2" font-size="7.4" stroke-width="1.6" textLength="78" lengthAdjust="spacingAndGlyphs">Scene coordinate system</text>
<text class="ol" x="171.5" y="44.3" font-size="7.4" stroke-width="1.6" textLength="28.5" lengthAdjust="spacingAndGlyphs">1.46 mm</text>
<text class="ol" x="177.4" y="70" font-size="9" font-weight="bold" stroke-width="2" textLength="52" lengthAdjust="spacingAndGlyphs">Volume [mm³]</text>
<rect x="176.8" y="74" width="7.4" height="140" fill="#0a0a0a"/>
<rect x="177.6" y="74.8" width="5.8" height="6.8" fill="#ff22bb"/>
<rect x="177.6" y="82.3" width="5.8" height="123.5" fill="url(#hue)"/>
<rect x="177.6" y="206.5" width="5.8" height="6.8" fill="#a018e0"/>
<text class="ol" x="186" y="85.3" font-size="9" font-weight="bold" stroke-width="2" textLength="17.5" lengthAdjust="spacingAndGlyphs">0.06</text>
<text class="ol" x="186" y="110.1" font-size="9" font-weight="bold" stroke-width="2" textLength="17.5" lengthAdjust="spacingAndGlyphs">0.05</text>
<text class="ol" x="186" y="135.0" font-size="9" font-weight="bold" stroke-width="2" textLength="17.5" lengthAdjust="spacingAndGlyphs">0.04</text>
<text class="ol" x="186" y="159.8" font-size="9" font-weight="bold" stroke-width="2" textLength="17.5" lengthAdjust="spacingAndGlyphs">0.03</text>
<text class="ol" x="186" y="184.7" font-size="9" font-weight="bold" stroke-width="2" textLength="17.5" lengthAdjust="spacingAndGlyphs">0.01</text>
<text class="ol" x="186" y="209.5" font-size="9" font-weight="bold" stroke-width="2" textLength="17.5" lengthAdjust="spacingAndGlyphs">0.00</text>
<path d="M171.3 242.5V251.5" stroke="#1030e0" stroke-width="1.3" fill="none"/>
<path d="M171.2 252.4l2.6-2.6" stroke="#1c7a30" stroke-width="0.9" fill="none"/>
<path d="M171.5 252.5H181.5" stroke="#d01818" stroke-width="1.2" fill="none"/>
<circle cx="171.3" cy="252.5" r="0.9" fill="#fff"/>
<text x="171.2" y="240.6" font-size="6.6" font-weight="bold" fill="#1030e0">z</text>
<text x="183.6" y="253.2" font-size="7.2" font-weight="bold" fill="#b01010">x</text>
<text class="ser" x="448.5" y="50" font-size="27" fill="#000">B</text>
<path d="M313.3 245.6h2.2v2.7h30.4v4.3h-32.6z" fill="#000"/>
<text class="ser" x="349.5" y="250.5" font-size="26.5" fill="#000" textLength="84" lengthAdjust="spacingAndGlyphs">1.5 mm</text>
</g>
<g id="chartC">
<text class="ser" x="11.5" y="318" font-size="28.5" fill="#000">C</text>
<rect x="77.5" y="494.30" width="369.5" height="1.2" fill="#d9d9d9"/>
<text class="ax" x="65.8" y="498.8" font-size="10.9" text-anchor="end">0</text>
<rect x="77.5" y="463.07" width="100.0" height="1.2" fill="#d9d9d9"/>
<text class="ax" x="65.8" y="467.6" font-size="10.9" text-anchor="end">500</text>
<rect x="77.5" y="431.85" width="100.0" height="1.2" fill="#d9d9d9"/>
<text class="ax" x="65.8" y="436.3" font-size="10.9" text-anchor="end">1000</text>
<rect x="77.5" y="400.62" width="100.0" height="1.2" fill="#d9d9d9"/>
<text class="ax" x="65.8" y="405.1" font-size="10.9" text-anchor="end">1500</text>
<rect x="77.5" y="369.40" width="100.0" height="1.2" fill="#d9d9d9"/>
<text class="ax" x="65.8" y="373.9" font-size="10.9" text-anchor="end">2000</text>
<rect x="77.5" y="338.17" width="100.0" height="1.2" fill="#d9d9d9"/>
<text class="ax" x="65.8" y="342.7" font-size="10.9" text-anchor="end">2500</text>
<rect x="77.5" y="306.95" width="100.0" height="1.2" fill="#d9d9d9"/>
<text class="ax" x="65.8" y="311.4" font-size="10.9" text-anchor="end">3000</text>
<rect x="97.49" y="410.90" width="6.2" height="84.00" fill="#5b9bd5"/>
<rect x="112.89" y="326.22" width="6.2" height="168.68" fill="#5b9bd5"/>
<rect x="128.29" y="350.77" width="6.2" height="144.13" fill="#5b9bd5"/>
<rect x="143.68" y="382.99" width="6.2" height="111.91" fill="#5b9bd5"/>
<rect x="159.08" y="434.82" width="6.2" height="60.08" fill="#5b9bd5"/>
<rect x="174.47" y="458.05" width="6.2" height="36.85" fill="#5b9bd5"/>
<rect x="189.87" y="475.10" width="6.2" height="19.80" fill="#5b9bd5"/>
<rect x="205.26" y="485.84" width="6.2" height="9.06" fill="#5b9bd5"/>
<rect x="220.66" y="489.34" width="6.2" height="5.56" fill="#5b9bd5"/>
<rect x="236.06" y="492.34" width="6.2" height="2.56" fill="#5b9bd5"/>
<rect x="251.45" y="493.84" width="6.2" height="1.06" fill="#5b9bd5"/>
<rect x="266.85" y="494.40" width="6.2" height="0.50" fill="#5b9bd5"/>
<rect x="297.64" y="494.53" width="6.2" height="0.37" fill="#5b9bd5"/>
<text class="ax" font-size="10.1" text-anchor="end" transform="translate(90.20 503.7) rotate(-90)">0.16</text>
<text class="ax" font-size="10.1" text-anchor="end" transform="translate(105.59 503.7) rotate(-90)">0.20</text>
<text class="ax" font-size="10.1" text-anchor="end" transform="translate(120.99 503.7) rotate(-90)">0.24</text>
<text class="ax" font-size="10.1" text-anchor="end" transform="translate(136.39 503.7) rotate(-90)">0.28</text>
<text class="ax" font-size="10.1" text-anchor="end" transform="translate(151.78 503.7) rotate(-90)">0.32</text>
<text class="ax" font-size="10.1" text-anchor="end" transform="translate(167.18 503.7) rotate(-90)">0.36</text>
<text class="ax" font-size="10.1" text-anchor="end" transform="translate(182.57 503.7) rotate(-90)">0.40</text>
<text class="ax" font-size="10.1" text-anchor="end" transform="translate(197.97 503.7) rotate(-90)">0.44</text>
<text class="ax" font-size="10.1" text-anchor="end" transform="translate(213.36 503.7) rotate(-90)">0.48</text>
<text class="ax" font-size="10.1" text-anchor="end" transform="translate(228.76 503.7) rotate(-90)">0.52</text>
<text class="ax" font-size="10.1" text-anchor="end" transform="translate(244.16 503.7) rotate(-90)">0.56</text>
<text class="ax" font-size="10.1" text-anchor="end" transform="translate(259.55 503.7) rotate(-90)">0.60</text>
<text class="ax" font-size="10.1" text-anchor="end" transform="translate(274.95 503.7) rotate(-90)">0.64</text>
<text class="ax" font-size="10.1" text-anchor="end" transform="translate(290.34 503.7) rotate(-90)">0.68</text>
<text class="ax" font-size="10.1" text-anchor="end" transform="translate(305.74 503.7) rotate(-90)">0.72</text>
<text class="ax" font-size="10.1" text-anchor="end" transform="translate(321.14 503.7) rotate(-90)">0.76</text>
<text class="ax" font-size="10.1" text-anchor="end" transform="translate(336.53 503.7) rotate(-90)">0.80</text>
<text class="ax" font-size="10.1" text-anchor="end" transform="translate(351.93 503.7) rotate(-90)">0.84</text>
<text class="ax" font-size="10.1" text-anchor="end" transform="translate(367.32 503.7) rotate(-90)">0.88</text>
<text class="ax" font-size="10.1" text-anchor="end" transform="translate(382.72 503.7) rotate(-90)">0.92</text>
<text class="ax" font-size="10.1" text-anchor="end" transform="translate(398.11 503.7) rotate(-90)">0.96</text>
<text class="ax" font-size="10.1" text-anchor="end" transform="translate(413.51 503.7) rotate(-90)">1.00</text>
<text class="ax" font-size="10.1" text-anchor="end" transform="translate(428.91 503.7) rotate(-90)">1.04</text>
<text class="ax" font-size="10.1" text-anchor="end" transform="translate(444.30 503.7) rotate(-90)">1.08</text>
<text class="ax" x="262.2" y="539" font-size="11.1" text-anchor="middle" textLength="99" lengthAdjust="spacingAndGlyphs">Voids diameter, mm</text>
<text class="ax" font-size="11.1" text-anchor="middle" textLength="80" lengthAdjust="spacingAndGlyphs" transform="translate(35 400) rotate(-90)">Number of voids</text>
<rect x="208.25" y="431.50" width="239.75" height="1.2" fill="#d9d9d9"/>
<text class="ax" x="196.6" y="435.7" font-size="10.2" text-anchor="end">0</text>
<rect x="208.25" y="391.85" width="239.75" height="1.2" fill="#d9d9d9"/>
<text class="ax" x="196.6" y="396.1" font-size="10.2" text-anchor="end">5</text>
<rect x="208.25" y="352.20" width="239.75" height="1.2" fill="#d9d9d9"/>
<text class="ax" x="196.6" y="356.4" font-size="10.2" text-anchor="end">10</text>
<rect x="208.25" y="312.55" width="239.75" height="1.2" fill="#d9d9d9"/>
<text class="ax" x="196.6" y="316.8" font-size="10.2" text-anchor="end">15</text>
<rect x="214.90" y="368.66" width="8.5" height="63.44" fill="#5b9bd5"/>
<rect x="236.69" y="321.08" width="8.5" height="111.02" fill="#5b9bd5"/>
<rect x="258.49" y="400.38" width="8.5" height="31.72" fill="#5b9bd5"/>
<rect x="280.28" y="400.38" width="8.5" height="31.72" fill="#5b9bd5"/>
<rect x="302.08" y="400.38" width="8.5" height="31.72" fill="#5b9bd5"/>
<rect x="323.88" y="416.24" width="8.5" height="15.86" fill="#5b9bd5"/>
<rect x="345.67" y="408.31" width="8.5" height="23.79" fill="#5b9bd5"/>
<rect x="367.47" y="424.17" width="8.5" height="7.93" fill="#5b9bd5"/>
<rect x="411.06" y="408.31" width="8.5" height="23.79" fill="#5b9bd5"/>
<rect x="432.85" y="424.17" width="8.5" height="7.93" fill="#5b9bd5"/>
<text class="ax" font-size="10.1" text-anchor="end" transform="translate(223.55 441.2) rotate(-90)">0.68</text>
<text class="ax" font-size="10.1" text-anchor="end" transform="translate(245.34 441.2) rotate(-90)">0.72</text>
<text class="ax" font-size="10.1" text-anchor="end" transform="translate(267.14 441.2) rotate(-90)">0.76</text>
<text class="ax" font-size="10.1" text-anchor="end" transform="translate(288.93 441.2) rotate(-90)">0.80</text>
<text class="ax" font-size="10.1" text-anchor="end" transform="translate(310.73 441.2) rotate(-90)">0.84</text>
<text class="ax" font-size="10.1" text-anchor="end" transform="translate(332.52 441.2) rotate(-90)">0.88</text>
<text class="ax" font-size="10.1" text-anchor="end" transform="translate(354.32 441.2) rotate(-90)">0.92</text>
<text class="ax" font-size="10.1" text-anchor="end" transform="translate(376.12 441.2) rotate(-90)">0.96</text>
<text class="ax" font-size="10.1" text-anchor="end" transform="translate(397.91 441.2) rotate(-90)">1.00</text>
<text class="ax" font-size="10.1" text-anchor="end" transform="translate(419.71 441.2) rotate(-90)">1.04</text>
<text class="ax" font-size="10.1" text-anchor="end" transform="translate(441.50 441.2) rotate(-90)">1.08</text>
<path d="M185.8 449.7L274.2 495" stroke="#000" stroke-width="1.6" fill="none"/>
<rect x="460" y="307.6" width="3.5" height="0.8" fill="#ececec"/>
<rect x="460" y="323.7" width="3.5" height="0.8" fill="#ececec"/>
<rect x="460" y="339.8" width="3.5" height="0.8" fill="#ececec"/>
<rect x="460" y="355.9" width="3.5" height="0.8" fill="#ececec"/>
<rect x="460" y="372.0" width="3.5" height="0.8" fill="#ececec"/>
<rect x="460" y="388.1" width="3.5" height="0.8" fill="#ececec"/>
<rect x="460" y="404.2" width="3.5" height="0.8" fill="#ececec"/>
<rect x="460" y="420.3" width="3.5" height="0.8" fill="#ececec"/>
<rect x="460" y="436.4" width="3.5" height="0.8" fill="#ececec"/>
<rect x="460" y="452.5" width="3.5" height="0.8" fill="#ececec"/>
<rect x="460" y="468.6" width="3.5" height="0.8" fill="#ececec"/>
<rect x="460" y="484.7" width="3.5" height="0.8" fill="#ececec"/>
<rect x="460" y="500.8" width="3.5" height="0.8" fill="#ececec"/>
<rect x="460" y="516.9" width="3.5" height="0.8" fill="#ececec"/>
<rect x="460" y="533.0" width="3.5" height="0.8" fill="#ececec"/>
</g>
</svg></body></html>
